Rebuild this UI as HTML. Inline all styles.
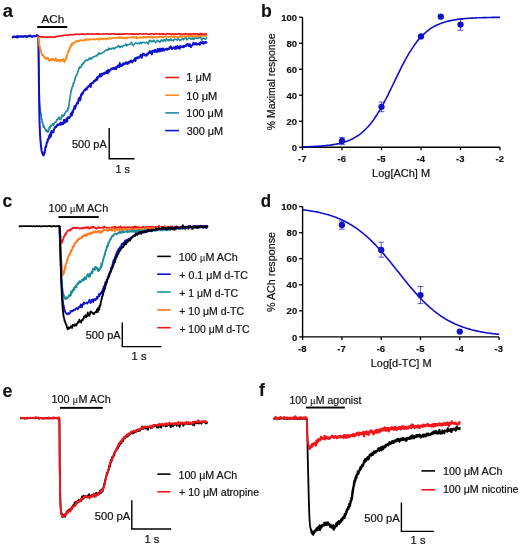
<!DOCTYPE html>
<html><head><meta charset="utf-8"><style>
html,body{margin:0;padding:0;background:#fff;overflow:hidden;}
svg{display:block;font-family:"Liberation Sans",sans-serif;will-change:transform;}
</style></head><body>
<svg width="521" height="550" viewBox="0 0 521 550">
<rect width="521" height="550" fill="#fff"/>
<g fill="#111">
<rect x="37.2" y="26" width="30" height="2" fill="#000"/>
<path d="M12.0,36.7 L12.9,36.3 L13.8,37.0 L14.7,37.0 L15.6,36.7 L16.5,36.8 L17.4,37.2 L18.3,37.0 L19.2,36.8 L20.1,36.8 L21.0,36.3 L21.9,36.8 L22.8,36.0 L23.7,36.3 L24.6,36.3 L25.6,35.9 L26.6,36.3 L27.7,36.8 L28.8,36.2 L30.0,35.9 L31.2,36.2 L32.3,36.4 L33.5,36.2 L34.5,36.1 L35.5,35.6 L36.3,36.2 L37.0,36.2 L37.5,36.4 L37.9,36.4 L38.0,36.2 L38.1,35.5 L38.1,35.7 L38.2,35.9 L38.2,36.5 L38.2,36.4 L38.3,37.3 L38.3,37.3 L38.4,37.7 L38.4,38.2 L38.4,38.6 L38.5,38.5 L38.5,40.2 L38.5,40.5 L38.5,41.1 L38.6,41.0 L38.6,41.4 L38.6,42.2 L38.6,43.0 L38.7,44.4 L38.7,45.2 L38.7,46.2 L38.7,47.2 L38.7,47.6 L38.7,48.5 L38.8,49.2 L38.8,50.2 L38.8,50.9 L38.8,52.4 L38.8,53.3 L38.8,54.2 L38.8,55.1 L38.8,56.6 L38.8,57.9 L38.9,58.6 L38.9,59.8 L38.9,60.7 L38.9,61.9 L38.9,63.1 L38.9,64.2 L38.9,65.3 L38.9,66.8 L38.9,68.3 L38.9,68.8 L38.9,70.7 L39.0,71.3 L39.0,72.5 L39.0,73.2 L39.0,74.3 L39.0,76.5 L39.0,77.1 L39.0,78.9 L39.0,79.9 L39.0,81.1 L39.1,82.6 L39.1,83.4 L39.1,83.6 L39.1,85.2 L39.1,87.2 L39.2,88.6 L39.2,89.1 L39.2,90.0 L39.2,90.9 L39.2,92.5 L39.3,92.9 L39.3,94.1 L39.3,95.5 L39.4,96.5 L39.4,97.4 L39.4,98.7 L39.5,99.0 L39.5,99.9 L39.6,101.0 L39.6,102.1 L39.7,102.9 L39.7,104.5 L39.8,104.6 L39.9,105.9 L40.0,106.4 L40.1,107.8 L40.2,107.9 L40.3,108.9 L40.4,111.8 L40.5,110.7 L40.6,113.7 L40.7,112.1 L40.8,113.3 L41.0,115.8 L41.1,113.1 L41.2,114.8 L41.3,117.3 L41.5,118.7 L41.7,119.7 L41.8,119.7 L42.0,119.4 L42.2,122.6 L42.5,123.1 L42.7,122.4 L43.0,124.5 L43.3,127.1 L43.6,126.2 L43.9,125.7 L44.4,127.3 L44.9,128.3 L45.6,129.9 L46.2,131.3 L46.8,130.0 L47.4,130.6 L47.9,132.2 L48.4,131.3 L48.8,131.1 L49.2,127.2 L49.7,126.7 L50.2,127.9 L50.8,125.3 L51.4,126.0 L52.1,125.0 L52.8,123.7 L53.5,125.3 L54.2,123.3 L54.9,122.2 L55.6,121.9 L56.3,121.7 L56.9,119.3 L57.6,119.4 L58.3,118.4 L59.0,117.0 L59.7,119.5 L60.4,119.4 L61.1,118.6 L61.8,115.0 L62.5,116.7 L63.2,116.4 L63.9,114.5 L64.5,115.3 L65.1,112.7 L65.7,112.0 L66.3,111.5 L66.7,110.9 L67.2,109.8 L67.6,111.0 L68.0,108.1 L68.2,108.0 L68.5,107.0 L68.7,108.4 L68.8,105.0 L69.0,105.3 L69.1,105.5 L69.3,102.1 L69.4,101.5 L69.5,101.0 L69.6,99.3 L69.7,100.5 L69.8,98.2 L70.0,98.5 L70.1,97.2 L70.2,95.9 L70.4,95.7 L70.5,93.8 L70.7,94.0 L70.9,91.2 L71.1,90.8 L71.3,91.5 L71.6,88.0 L71.8,89.2 L72.1,87.6 L72.4,86.7 L72.7,85.7 L72.9,86.4 L73.2,83.3 L73.5,84.3 L73.8,83.2 L74.1,81.6 L74.4,81.0 L74.7,80.8 L75.0,78.9 L75.3,77.3 L75.5,77.9 L75.8,76.1 L76.1,75.6 L76.4,75.1 L76.7,74.8 L77.0,74.8 L77.4,72.8 L77.7,71.8 L78.1,71.5 L78.5,70.3 L78.9,68.0 L79.4,68.1 L79.9,66.8 L80.4,67.6 L80.9,67.3 L81.5,65.8 L82.1,64.0 L82.7,64.8 L83.3,62.7 L83.9,63.1 L84.6,61.4 L85.3,60.6 L86.0,60.1 L86.8,60.7 L87.5,59.7 L88.3,60.0 L89.1,58.2 L89.9,59.2 L90.6,57.8 L91.4,58.9 L92.2,58.3 L93.1,56.9 L93.9,56.8 L94.7,56.5 L95.5,56.3 L96.3,55.3 L97.1,56.0 L97.9,54.3 L98.8,52.8 L99.6,54.1 L100.4,53.4 L101.2,53.7 L102.0,53.1 L102.8,52.4 L103.6,52.0 L104.4,51.7 L105.3,50.7 L106.1,49.9 L107.0,49.9 L107.8,50.2 L108.7,48.1 L109.5,49.3 L110.4,48.6 L111.2,49.0 L112.1,48.1 L112.9,48.5 L113.8,48.0 L114.7,49.0 L115.5,47.4 L116.4,47.2 L117.3,47.2 L118.2,45.5 L119.0,45.9 L119.9,47.7 L120.8,46.7 L121.6,46.2 L122.5,46.8 L123.4,45.6 L124.3,45.4 L125.2,45.1 L126.1,43.8 L126.9,45.8 L127.8,44.7 L128.7,44.6 L129.6,44.3 L130.5,43.9 L131.4,42.4 L132.3,44.2 L133.2,45.7 L134.1,44.6 L135.0,43.4 L135.9,42.8 L136.8,43.4 L137.7,43.6 L138.6,43.1 L139.5,43.7 L140.4,42.2 L141.2,43.7 L142.1,42.9 L143.0,42.2 L143.9,42.3 L144.8,42.7 L145.7,43.0 L146.6,42.3 L147.5,42.6 L148.4,44.0 L149.3,40.7 L150.2,40.3 L151.1,41.8 L152.0,40.9 L152.9,41.7 L153.8,40.2 L154.7,41.5 L155.6,42.4 L156.5,42.1 L157.4,40.2 L158.3,40.8 L159.2,41.6 L160.1,42.3 L161.0,40.0 L161.9,40.0 L162.8,41.5 L163.6,40.2 L164.5,39.6 L165.4,41.2 L166.3,38.9 L167.2,39.6 L168.1,40.8 L169.0,39.5 L169.9,40.5 L170.8,38.9 L171.7,40.4 L172.6,40.1 L173.5,40.9 L174.4,39.3 L175.3,39.2 L176.2,39.3 L177.1,40.2 L178.0,38.7 L178.9,39.1 L179.8,40.7 L180.7,39.7 L181.6,39.6 L182.5,38.5 L183.5,39.6 L184.4,37.9 L185.3,37.6 L186.2,38.0 L187.1,39.8 L188.0,38.8 L188.9,37.8 L189.8,38.2 L190.7,38.9 L191.6,39.4 L192.5,37.1 L193.4,39.4 L194.3,39.1 L195.2,37.8 L196.1,38.0 L197.0,38.6 L197.9,38.0 L198.8,38.3 L199.7,37.3 L200.6,36.7 L201.6,40.1 L202.5,38.3 L203.4,38.3 L204.3,38.5 L205.2,39.2 L206.1,38.8 L207.0,37.3" fill="none" stroke="#1e8c9a" stroke-width="1.6" stroke-linejoin="round"/>
<path d="M12.0,37.1 L12.6,37.6 L13.2,37.2 L13.8,36.4 L14.4,36.6 L15.0,37.1 L15.6,36.7 L16.2,37.1 L16.8,36.0 L17.4,37.4 L18.0,37.3 L18.6,36.1 L19.2,36.5 L19.8,36.4 L20.4,36.4 L21.0,36.9 L21.6,36.3 L22.2,36.2 L22.8,36.7 L23.4,36.9 L24.0,36.3 L24.6,36.5 L25.2,35.9 L25.9,36.7 L26.6,37.2 L27.3,36.6 L28.0,36.3 L28.8,35.6 L29.6,36.2 L30.4,35.5 L31.2,36.5 L31.9,36.8 L32.7,36.7 L33.5,36.2 L34.2,36.3 L34.8,35.9 L35.5,36.2 L36.0,36.2 L36.6,36.1 L37.0,35.1 L37.4,36.1 L37.7,36.1 L37.9,35.9 L38.0,36.0 L38.0,36.1 L38.1,35.9 L38.1,36.3 L38.1,36.4 L38.1,36.5 L38.2,36.9 L38.2,37.2 L38.2,37.6 L38.2,37.9 L38.2,38.4 L38.3,38.9 L38.3,39.5 L38.3,40.0 L38.3,40.6 L38.3,41.5 L38.3,42.0 L38.4,42.7 L38.4,43.6 L38.4,44.2 L38.4,44.8 L38.4,45.5 L38.4,46.5 L38.4,47.2 L38.4,48.0 L38.5,48.7 L38.5,49.5 L38.5,50.1 L38.5,51.2 L38.5,51.8 L38.5,52.7 L38.5,53.6 L38.5,54.3 L38.5,55.0 L38.5,55.9 L38.5,56.4 L38.6,57.3 L38.6,58.1 L38.6,58.7 L38.6,59.1 L38.6,60.0 L38.6,60.5 L38.6,61.0 L38.6,61.6 L38.6,62.3 L38.7,63.0 L38.7,63.6 L38.7,64.0 L38.7,64.7 L38.7,65.4 L38.7,65.9 L38.7,66.5 L38.7,67.2 L38.7,67.5 L38.7,68.4 L38.7,68.8 L38.8,69.5 L38.8,70.2 L38.8,70.7 L38.8,71.2 L38.8,71.9 L38.8,72.6 L38.8,73.0 L38.8,73.6 L38.8,74.4 L38.8,75.0 L38.8,75.5 L38.8,76.1 L38.9,76.8 L38.9,77.3 L38.9,78.2 L38.9,78.7 L38.9,79.3 L38.9,79.7 L38.9,80.3 L38.9,80.9 L38.9,81.4 L38.9,82.1 L38.9,82.9 L38.9,83.3 L38.9,83.9 L38.9,84.7 L38.9,85.2 L39.0,85.8 L39.0,86.4 L39.0,86.9 L39.0,87.5 L39.0,88.2 L39.0,88.7 L39.0,89.4 L39.0,89.9 L39.0,90.6 L39.0,91.3 L39.0,91.9 L39.0,92.3 L39.0,93.0 L39.0,93.8 L39.0,94.4 L39.1,94.7 L39.1,95.4 L39.1,96.0 L39.1,96.3 L39.1,97.2 L39.1,98.0 L39.1,98.3 L39.1,99.0 L39.1,99.7 L39.1,100.2 L39.1,100.8 L39.1,101.4 L39.1,101.9 L39.2,102.7 L39.2,103.1 L39.2,103.8 L39.2,104.5 L39.2,105.2 L39.2,105.5 L39.2,106.2 L39.2,106.9 L39.2,107.2 L39.2,108.0 L39.3,108.7 L39.3,109.3 L39.3,110.0 L39.3,110.4 L39.3,111.0 L39.3,111.6 L39.3,112.2 L39.3,112.9 L39.3,113.6 L39.4,113.9 L39.4,114.6 L39.4,115.0 L39.4,115.7 L39.4,116.5 L39.4,116.8 L39.4,117.7 L39.5,118.4 L39.5,118.8 L39.5,119.4 L39.5,120.0 L39.5,120.6 L39.5,121.2 L39.6,121.8 L39.6,122.5 L39.6,123.1 L39.6,123.7 L39.6,124.0 L39.6,124.8 L39.7,125.5 L39.7,126.2 L39.7,126.6 L39.7,127.4 L39.8,128.0 L39.8,128.5 L39.8,129.2 L39.8,129.7 L39.9,130.2 L39.9,130.9 L39.9,131.7 L39.9,132.2 L40.0,132.8 L40.0,133.5 L40.0,134.1 L40.1,134.6 L40.1,135.0 L40.1,135.5 L40.2,136.2 L40.2,137.2 L40.3,137.7 L40.3,138.1 L40.3,138.9 L40.4,139.3 L40.4,140.0 L40.5,140.7 L40.5,141.2 L40.6,141.9 L40.6,142.5 L40.7,142.8 L40.8,143.6 L40.8,144.2 L40.9,144.7 L40.9,145.2 L41.0,146.1 L41.1,146.6 L41.1,147.1 L41.2,147.6 L41.3,148.3 L41.4,149.0 L41.4,149.4 L41.5,150.1 L41.6,150.7 L41.8,151.4 L42.0,152.1 L42.2,152.9 L42.5,153.5 L42.7,154.1 L43.0,154.8 L43.2,155.3 L43.4,155.4 L43.6,155.3 L43.8,155.2 L43.9,154.9 L44.0,153.0 L44.2,153.0 L44.3,152.9 L44.4,153.6 L44.6,151.1 L44.7,152.9 L44.8,150.9 L44.9,151.4 L45.1,150.4 L45.2,148.8 L45.3,147.9 L45.5,147.4 L45.6,146.7 L45.8,146.5 L46.0,147.1 L46.1,145.2 L46.3,145.7 L46.5,144.4 L46.7,142.4 L46.9,142.8 L47.2,142.4 L47.4,142.1 L47.6,140.1 L47.9,141.2 L48.1,138.8 L48.3,138.7 L48.6,139.1 L48.9,138.0 L49.1,136.3 L49.4,135.3 L49.7,135.6 L50.0,134.9 L50.2,137.5 L50.5,133.4 L50.8,132.5 L51.1,135.9 L51.4,131.1 L51.8,131.8 L52.1,132.4 L52.4,131.4 L52.8,131.2 L53.1,132.0 L53.4,132.4 L53.8,129.6 L54.2,129.3 L54.6,128.1 L54.9,127.4 L55.3,127.1 L55.7,127.4 L56.1,126.2 L56.6,126.7 L57.0,125.6 L57.5,124.5 L58.0,125.0 L58.6,124.8 L59.1,124.2 L59.6,124.0 L60.2,124.8 L60.7,122.5 L61.3,124.6 L61.8,122.7 L62.4,122.9 L62.9,124.1 L63.4,123.4 L63.9,120.0 L64.4,122.1 L64.9,122.8 L65.3,119.9 L65.8,120.1 L66.3,121.7 L66.7,118.4 L67.2,121.3 L67.6,117.5 L68.1,117.7 L68.5,117.5 L68.9,117.2 L69.3,118.1 L69.7,117.2 L70.1,116.5 L70.5,116.1 L70.8,113.6 L71.2,114.2 L71.5,115.6 L71.8,112.6 L72.1,114.9 L72.3,112.6 L72.6,111.1 L72.9,112.6 L73.1,112.0 L73.4,109.9 L73.6,109.4 L73.9,108.6 L74.2,108.3 L74.5,105.9 L74.7,107.2 L75.0,108.8 L75.3,106.3 L75.6,106.7 L75.8,106.7 L76.1,105.4 L76.4,104.2 L76.7,103.6 L76.9,103.0 L77.2,103.5 L77.5,102.2 L77.8,102.9 L78.0,103.5 L78.3,101.5 L78.6,98.8 L78.8,100.2 L79.1,99.1 L79.3,98.3 L79.6,97.4 L79.9,97.4 L80.1,100.2 L80.4,99.6 L80.7,97.7 L81.0,94.6 L81.2,95.1 L81.5,95.5 L81.8,93.6 L82.1,94.0 L82.4,94.0 L82.8,93.9 L83.1,92.4 L83.4,91.8 L83.8,90.8 L84.2,90.3 L84.6,90.3 L85.0,89.6 L85.4,90.0 L85.8,89.2 L86.3,88.2 L86.7,89.5 L87.2,87.3 L87.6,87.8 L88.1,87.3 L88.6,85.9 L89.0,86.0 L89.5,85.9 L89.9,84.7 L90.4,83.6 L90.8,86.9 L91.3,83.4 L91.7,83.3 L92.1,82.9 L92.6,82.7 L93.0,83.1 L93.4,82.6 L93.8,80.9 L94.3,81.3 L94.7,81.2 L95.1,80.0 L95.5,80.8 L96.0,79.6 L96.4,79.8 L96.9,77.5 L97.3,79.8 L97.8,77.6 L98.2,76.5 L98.7,76.2 L99.2,76.0 L99.7,76.7 L100.1,73.9 L100.6,74.7 L101.1,76.4 L101.6,76.2 L102.1,73.6 L102.6,74.5 L103.1,74.2 L103.6,73.5 L104.2,72.8 L104.7,73.8 L105.2,72.5 L105.7,72.6 L106.2,72.9 L106.8,70.9 L107.3,70.7 L107.8,73.4 L108.3,70.0 L108.9,71.7 L109.4,71.5 L109.9,70.2 L110.5,69.6 L111.0,69.5 L111.5,68.6 L112.1,69.1 L112.6,68.6 L113.1,68.1 L113.7,68.0 L114.2,68.9 L114.8,67.9 L115.3,67.4 L115.9,69.2 L116.5,67.2 L117.0,67.5 L117.6,65.9 L118.1,65.5 L118.7,66.8 L119.3,67.0 L119.8,63.1 L120.4,66.3 L121.0,66.2 L121.5,65.3 L122.1,65.6 L122.7,63.8 L123.2,65.0 L123.8,63.3 L124.4,63.9 L124.9,63.6 L125.5,63.9 L126.1,62.2 L126.6,63.5 L127.2,63.4 L127.8,63.9 L128.3,62.1 L128.9,62.8 L129.4,61.5 L130.0,62.4 L130.5,61.1 L131.1,60.4 L131.6,60.6 L132.2,62.4 L132.7,62.0 L133.3,60.5 L133.8,60.2 L134.3,60.2 L134.9,58.2 L135.4,61.1 L136.0,58.1 L136.5,57.6 L137.0,58.3 L137.6,57.2 L138.1,58.1 L138.7,58.2 L139.2,57.0 L139.7,57.1 L140.3,56.1 L140.8,54.8 L141.4,55.0 L141.9,57.8 L142.4,55.5 L143.0,53.6 L143.5,54.0 L144.1,54.0 L144.6,55.3 L145.2,54.5 L145.7,55.5 L146.3,55.7 L146.8,54.2 L147.4,54.0 L147.9,54.4 L148.5,52.7 L149.0,52.6 L149.6,51.2 L150.2,53.3 L150.7,51.6 L151.3,52.5 L151.9,54.4 L152.4,50.7 L153.0,51.4 L153.6,50.7 L154.2,50.5 L154.8,52.1 L155.3,49.7 L155.9,51.4 L156.5,51.1 L157.1,51.9 L157.7,49.1 L158.3,49.5 L158.9,51.5 L159.4,48.7 L160.0,50.5 L160.6,51.2 L161.2,48.6 L161.8,48.9 L162.4,50.7 L163.0,48.5 L163.6,50.4 L164.2,50.6 L164.8,49.5 L165.4,49.2 L166.0,49.2 L166.6,48.5 L167.2,49.8 L167.8,49.6 L168.4,48.8 L169.0,49.0 L169.6,47.3 L170.2,47.6 L170.8,46.4 L171.4,47.8 L172.0,49.1 L172.6,48.4 L173.2,47.6 L173.8,47.6 L174.4,47.5 L175.0,48.8 L175.6,46.6 L176.2,48.7 L176.8,48.0 L177.4,46.0 L178.0,47.9 L178.6,47.9 L179.1,46.7 L179.7,48.7 L180.3,46.1 L180.9,46.4 L181.5,46.9 L182.1,47.1 L182.7,46.3 L183.3,47.2 L183.9,45.7 L184.5,46.6 L185.1,45.9 L185.7,46.0 L186.3,44.9 L186.8,45.6 L187.4,44.2 L188.0,44.1 L188.6,45.2 L189.2,46.1 L189.8,44.2 L190.4,45.5 L191.0,47.1 L191.6,45.4 L192.2,45.3 L192.8,44.5 L193.4,42.7 L194.0,44.1 L194.5,44.4 L195.1,43.2 L195.7,44.3 L196.3,43.4 L196.9,44.7 L197.5,43.9 L198.1,44.0 L198.7,44.0 L199.3,43.4 L199.9,44.9 L200.5,42.3 L201.1,42.5 L201.7,43.1 L202.3,43.2 L202.8,41.7 L203.4,43.8 L204.0,42.6 L204.6,43.3 L205.2,42.0 L205.8,42.0 L206.4,42.6 L207.0,41.8" fill="none" stroke="#1010cc" stroke-width="2.0" stroke-linejoin="round"/>
<path d="M38.0,36.1 L38.1,36.5 L38.1,37.3 L38.2,37.7 L38.3,38.5 L38.4,38.8 L38.5,39.5 L38.5,40.1 L38.6,40.6 L38.7,41.5 L38.8,41.8 L38.9,42.4 L39.0,42.7 L39.1,44.3 L39.2,43.7 L39.3,46.5 L39.5,45.5 L39.6,45.9 L39.7,47.1 L39.8,47.2 L40.0,47.1 L40.1,48.0 L40.2,49.2 L40.4,50.9 L40.6,50.4 L40.7,51.2 L40.9,49.6 L41.1,51.8 L41.3,52.5 L41.6,54.5 L41.8,55.0 L42.1,54.3 L42.3,55.1 L42.6,55.2 L43.0,55.1 L43.4,56.2 L43.9,56.3 L44.3,57.2 L44.8,57.9 L45.3,57.5 L45.8,58.9 L46.3,57.5 L46.8,58.7 L47.4,59.1 L48.0,57.8 L48.5,59.9 L49.1,60.1 L49.7,61.0 L50.2,59.6 L50.8,60.2 L51.4,60.3 L52.0,58.5 L52.6,60.0 L53.2,58.7 L53.9,60.1 L54.5,60.5 L55.1,60.1 L55.7,58.3 L56.3,61.1 L56.9,60.2 L57.5,60.8 L58.2,59.5 L58.8,59.8 L59.5,61.8 L60.2,60.0 L60.9,59.8 L61.6,59.9 L62.2,61.0 L62.8,59.0 L63.4,60.0 L63.9,59.6 L64.4,62.3 L64.8,61.2 L65.1,60.3 L65.4,60.0 L65.6,59.1 L65.8,58.2 L66.1,57.7 L66.3,58.6 L66.5,56.3 L66.7,55.7 L66.9,55.6 L67.2,56.0 L67.4,54.7 L67.6,52.9 L67.8,53.2 L68.0,52.6 L68.2,51.0 L68.5,50.9 L68.7,51.2 L69.0,50.0 L69.2,51.1 L69.5,49.5 L69.7,48.3 L70.0,48.0 L70.3,46.8 L70.5,46.4 L70.8,47.0 L71.1,45.8 L71.4,43.8 L71.8,43.8 L72.1,44.9 L72.5,43.1 L72.9,43.4 L73.3,44.2 L73.8,42.7 L74.3,42.3 L74.8,41.9 L75.4,42.3 L76.0,41.4 L76.5,40.9 L77.1,41.2 L77.6,41.6 L78.2,41.0 L78.8,41.3 L79.4,41.1 L79.9,40.1 L80.5,40.4 L81.1,40.3 L81.7,40.2 L82.3,40.5 L83.0,40.5 L83.6,40.2 L84.2,40.3 L84.8,39.6 L85.4,40.1 L86.0,39.4 L86.6,39.6 L87.2,39.2 L87.8,40.0 L88.4,39.4 L89.0,39.8 L89.6,39.0 L90.2,39.5 L90.8,39.7 L91.4,39.4 L92.0,39.4 L92.6,39.4 L93.2,39.3 L93.8,39.2 L94.4,39.0 L95.0,39.6 L95.6,39.2 L96.2,39.2 L96.8,39.3 L97.4,38.7 L98.0,38.7 L98.6,38.6 L99.2,39.7 L99.8,38.9 L100.4,39.3 L101.0,38.3 L101.6,38.8 L102.2,38.9 L102.8,38.7 L103.4,39.2 L104.0,38.7 L104.6,38.7 L105.2,39.1 L105.8,39.3 L106.4,38.8 L107.0,38.5 L107.6,38.5 L108.2,39.0 L108.8,38.1 L109.4,38.1 L110.1,38.1 L110.7,38.8 L111.3,38.5 L111.9,38.0 L112.5,38.0 L113.1,38.2 L113.7,38.0 L114.3,37.8 L114.9,37.8 L115.5,38.0 L116.1,37.9 L116.7,38.0 L117.3,37.9 L117.9,37.7 L118.5,38.1 L119.1,38.1 L119.7,37.2 L120.3,38.0 L120.9,37.7 L121.5,37.5 L122.1,38.1 L122.7,37.9 L123.3,38.0 L123.9,37.6 L124.5,38.4 L125.1,37.9 L125.7,37.5 L126.3,38.4 L126.9,37.4 L127.5,38.2 L128.1,37.6 L128.7,37.4 L129.3,37.4 L129.9,37.3 L130.5,37.3 L131.1,37.7 L131.7,37.5 L132.3,37.0 L132.9,37.6 L133.5,37.0 L134.1,37.7 L134.7,37.4 L135.3,37.4 L135.9,37.9 L136.5,36.8 L137.1,38.3 L137.7,38.5 L138.3,37.8 L138.9,37.6 L139.5,37.2 L140.2,37.8 L140.8,37.3 L141.4,37.3 L142.0,37.1 L142.6,37.9 L143.2,37.7 L143.8,36.8 L144.4,37.3 L145.0,36.8 L145.6,37.6 L146.2,37.0 L146.8,37.2 L147.4,37.5 L148.0,37.2 L148.6,36.8 L149.2,37.1 L149.8,36.7 L150.4,37.7 L151.0,37.5 L151.6,36.5 L152.2,36.7 L152.8,37.9 L153.4,37.4 L154.0,37.0 L154.6,37.4 L155.2,37.2 L155.8,37.3 L156.4,36.9 L157.0,37.6 L157.6,37.1 L158.2,36.6 L158.8,37.0 L159.4,36.9 L160.0,37.1 L160.6,37.0 L161.2,37.0 L161.8,36.6 L162.4,37.0 L163.0,36.7 L163.6,37.4 L164.2,36.4 L164.8,36.7 L165.4,36.6 L166.0,36.5 L166.7,36.9 L167.3,36.9 L167.9,36.8 L168.5,37.3 L169.1,36.5 L169.7,36.9 L170.3,36.7 L170.9,36.8 L171.5,36.2 L172.1,36.2 L172.7,37.0 L173.3,36.2 L173.9,37.0 L174.5,37.2 L175.1,36.4 L175.7,36.7 L176.3,36.6 L176.9,37.1 L177.5,37.3 L178.1,36.8 L178.7,36.8 L179.3,36.9 L179.9,36.1 L180.5,36.4 L181.1,36.8 L181.7,36.3 L182.3,37.0 L182.9,36.1 L183.5,36.3 L184.1,36.4 L184.7,36.6 L185.3,36.0 L185.9,36.2 L186.5,36.4 L187.1,36.3 L187.7,36.5 L188.3,36.0 L188.9,35.8 L189.5,35.2 L190.1,35.7 L190.7,36.0 L191.3,35.6 L191.9,36.0 L192.5,36.4 L193.1,35.9 L193.8,36.4 L194.4,36.3 L195.0,36.1 L195.6,36.3 L196.2,36.3 L196.8,35.5 L197.4,36.6 L198.0,35.4 L198.6,36.1 L199.2,35.7 L199.8,35.7 L200.4,36.0 L201.0,35.8 L201.6,35.8 L202.2,35.9 L202.8,35.6 L203.4,35.9 L204.0,35.5 L204.6,36.0 L205.2,35.4 L205.8,35.9 L206.4,35.6 L207.0,36.3" fill="none" stroke="#ff8a1e" stroke-width="1.8" stroke-linejoin="round"/>
<path d="M38.0,36.1 L38.6,36.3 L39.2,36.3 L39.7,36.6 L40.3,36.8 L40.9,36.9 L41.5,37.4 L42.1,36.9 L42.7,36.9 L43.3,36.9 L43.9,37.2 L44.5,36.9 L45.1,37.0 L45.7,37.2 L46.3,37.2 L46.9,36.8 L47.5,37.4 L48.1,37.1 L48.7,37.2 L49.3,37.1 L49.9,37.3 L50.5,36.9 L51.1,36.9 L51.7,37.1 L52.3,37.3 L52.9,37.0 L53.5,37.2 L54.1,37.3 L54.7,36.6 L55.3,37.1 L55.9,36.9 L56.5,36.5 L57.1,36.4 L57.7,36.2 L58.3,36.3 L58.9,35.9 L59.5,36.1 L60.1,36.2 L60.7,35.5 L61.3,35.8 L61.9,35.7 L62.5,35.5 L63.1,35.6 L63.7,35.5 L64.3,35.1 L64.9,35.2 L65.5,35.3 L66.1,35.1 L66.7,34.9 L67.3,35.6 L67.9,35.3 L68.5,35.2 L69.1,34.9 L69.7,34.4 L70.3,34.7 L70.9,34.8 L71.5,34.6 L72.1,34.5 L72.7,34.6 L73.3,34.9 L73.9,34.5 L74.5,34.5 L75.1,34.2 L75.7,34.7 L76.3,34.4 L76.9,34.3 L77.5,34.2 L78.1,34.1 L78.7,34.3 L79.3,34.7 L79.9,34.2 L80.5,34.3 L81.1,34.1 L81.7,34.3 L82.3,33.9 L82.9,34.5 L83.5,34.1 L84.1,34.3 L84.7,34.2 L85.3,34.5 L85.9,34.3 L86.5,34.3 L87.1,33.9 L87.7,33.9 L88.3,33.9 L88.9,33.9 L89.5,34.0 L90.1,34.3 L90.7,34.1 L91.3,34.1 L91.9,33.9 L92.5,33.9 L93.1,33.8 L93.7,34.3 L94.3,34.1 L94.9,34.2 L95.5,34.1 L96.1,33.9 L96.7,34.1 L97.3,33.6 L98.0,34.2 L98.6,34.1 L99.2,34.1 L99.8,34.1 L100.4,34.2 L101.0,34.0 L101.6,34.0 L102.2,33.9 L102.8,34.0 L103.4,34.1 L104.0,34.2 L104.6,34.0 L105.2,33.7 L105.8,33.6 L106.4,34.0 L107.0,33.9 L107.6,34.1 L108.2,34.3 L108.8,33.9 L109.4,34.3 L110.0,34.3 L110.6,33.8 L111.2,33.9 L111.8,34.2 L112.4,33.8 L113.0,33.8 L113.6,34.2 L114.2,33.9 L114.8,33.9 L115.4,34.1 L116.0,34.0 L116.6,34.1 L117.2,34.3 L117.8,34.3 L118.4,33.7 L119.0,34.2 L119.6,34.0 L120.3,34.1 L120.9,34.2 L121.5,34.4 L122.1,34.2 L122.7,34.0 L123.3,34.1 L123.9,33.7 L124.5,34.1 L125.1,34.1 L125.7,33.8 L126.3,33.7 L126.9,33.8 L127.5,33.9 L128.1,34.1 L128.7,34.0 L129.3,33.9 L129.9,34.0 L130.5,34.3 L131.1,34.0 L131.7,33.8 L132.3,34.4 L132.9,33.8 L133.5,34.1 L134.1,34.2 L134.7,34.0 L135.3,34.0 L135.9,34.3 L136.5,34.0 L137.1,34.1 L137.7,34.0 L138.3,34.3 L138.9,33.8 L139.5,33.8 L140.1,33.8 L140.7,34.0 L141.3,34.0 L141.9,34.0 L142.5,33.9 L143.1,34.1 L143.7,33.7 L144.3,33.8 L145.0,34.0 L145.6,33.9 L146.2,33.9 L146.8,33.9 L147.4,33.9 L148.0,34.1 L148.6,34.2 L149.2,34.3 L149.8,34.0 L150.4,33.9 L151.0,33.8 L151.6,33.8 L152.2,33.7 L152.8,34.1 L153.4,34.4 L154.0,34.0 L154.6,34.1 L155.2,33.6 L155.8,34.0 L156.4,33.9 L157.0,34.0 L157.6,33.9 L158.2,33.9 L158.8,33.8 L159.4,33.9 L160.0,34.4 L160.6,34.2 L161.2,33.7 L161.8,34.0 L162.4,33.9 L163.0,34.4 L163.6,33.7 L164.2,34.1 L164.8,34.2 L165.4,34.4 L166.0,34.4 L166.6,34.0 L167.2,33.7 L167.8,33.8 L168.4,33.9 L169.0,34.0 L169.6,33.9 L170.3,33.8 L170.9,34.2 L171.5,34.1 L172.1,33.9 L172.7,33.9 L173.3,33.9 L173.9,33.8 L174.5,34.5 L175.1,34.0 L175.7,33.9 L176.3,34.3 L176.9,34.0 L177.5,34.1 L178.1,33.8 L178.7,34.0 L179.3,33.7 L179.9,34.1 L180.5,34.5 L181.1,34.1 L181.7,34.1 L182.3,34.3 L182.9,34.3 L183.5,33.9 L184.1,33.9 L184.7,34.0 L185.3,34.3 L185.9,33.8 L186.5,33.9 L187.1,34.0 L187.7,34.1 L188.3,34.1 L188.9,34.0 L189.5,34.3 L190.1,33.9 L190.7,34.5 L191.3,34.1 L191.9,34.2 L192.5,33.8 L193.1,34.1 L193.7,33.8 L194.3,33.8 L195.0,34.2 L195.6,34.1 L196.2,33.8 L196.8,33.7 L197.4,34.2 L198.0,34.1 L198.6,34.2 L199.2,34.3 L199.8,34.3 L200.4,33.6 L201.0,33.4 L201.6,34.2 L202.2,33.7 L202.8,34.3 L203.4,34.2 L204.0,34.1 L204.6,34.1 L205.2,33.8 L205.8,34.1 L206.4,34.1 L207.0,34.2" fill="none" stroke="#f2161c" stroke-width="1.6" stroke-linejoin="round"/>
<line x1="165.2" y1="77.5" x2="179" y2="77.5" stroke="#f2161c" stroke-width="1.6"/>
<line x1="165.2" y1="95.2" x2="179" y2="95.2" stroke="#ff8a1e" stroke-width="1.6"/>
<line x1="165.2" y1="112.9" x2="179" y2="112.9" stroke="#1e8c9a" stroke-width="1.6"/>
<line x1="165.2" y1="130.6" x2="179" y2="130.6" stroke="#1010cc" stroke-width="1.6"/>
<path d="M109.2,128 V158.7 H134.6" fill="none" stroke="#000" stroke-width="1.4"/>
<path d="M302.5,17.2 V147.2 H500.0" fill="none" stroke="#000" stroke-width="1.4"/>
<line x1="299.0" y1="147.2" x2="302.5" y2="147.2" stroke="#000" stroke-width="1.3"/>
<text x="297.10" y="150.80" font-size="9.5" text-anchor="end" font-weight="bold" stroke="#111" stroke-width="0.15">0</text>
<line x1="299.0" y1="121.2" x2="302.5" y2="121.2" stroke="#000" stroke-width="1.3"/>
<text x="297.10" y="124.80" font-size="9.5" text-anchor="end" font-weight="bold" stroke="#111" stroke-width="0.15">20</text>
<line x1="299.0" y1="95.2" x2="302.5" y2="95.2" stroke="#000" stroke-width="1.3"/>
<text x="297.10" y="98.80" font-size="9.5" text-anchor="end" font-weight="bold" stroke="#111" stroke-width="0.15">40</text>
<line x1="299.0" y1="69.2" x2="302.5" y2="69.2" stroke="#000" stroke-width="1.3"/>
<text x="297.10" y="72.80" font-size="9.5" text-anchor="end" font-weight="bold" stroke="#111" stroke-width="0.15">60</text>
<line x1="299.0" y1="43.2" x2="302.5" y2="43.2" stroke="#000" stroke-width="1.3"/>
<text x="297.10" y="46.80" font-size="9.5" text-anchor="end" font-weight="bold" stroke="#111" stroke-width="0.15">80</text>
<line x1="299.0" y1="17.2" x2="302.5" y2="17.2" stroke="#000" stroke-width="1.3"/>
<text x="297.10" y="20.80" font-size="9.5" text-anchor="end" font-weight="bold" stroke="#111" stroke-width="0.15">100</text>
<line x1="302.5" y1="147.2" x2="302.5" y2="150.2" stroke="#000" stroke-width="1.3"/>
<text x="302.20" y="162.20" font-size="9.5" text-anchor="middle" font-weight="bold" stroke="#111" stroke-width="0.15">-7</text>
<line x1="342.0" y1="147.2" x2="342.0" y2="150.2" stroke="#000" stroke-width="1.3"/>
<text x="341.70" y="162.20" font-size="9.5" text-anchor="middle" font-weight="bold" stroke="#111" stroke-width="0.15">-6</text>
<line x1="381.5" y1="147.2" x2="381.5" y2="150.2" stroke="#000" stroke-width="1.3"/>
<text x="381.20" y="162.20" font-size="9.5" text-anchor="middle" font-weight="bold" stroke="#111" stroke-width="0.15">-5</text>
<line x1="421.0" y1="147.2" x2="421.0" y2="150.2" stroke="#000" stroke-width="1.3"/>
<text x="420.70" y="162.20" font-size="9.5" text-anchor="middle" font-weight="bold" stroke="#111" stroke-width="0.15">-4</text>
<line x1="460.5" y1="147.2" x2="460.5" y2="150.2" stroke="#000" stroke-width="1.3"/>
<text x="460.20" y="162.20" font-size="9.5" text-anchor="middle" font-weight="bold" stroke="#111" stroke-width="0.15">-3</text>
<line x1="500.0" y1="147.2" x2="500.0" y2="150.2" stroke="#000" stroke-width="1.3"/>
<text x="499.70" y="162.20" font-size="9.5" text-anchor="middle" font-weight="bold" stroke="#111" stroke-width="0.15">-2</text>
<text x="0" y="0" font-size="10.5" stroke="#111" stroke-width="0.2" text-anchor="middle" textLength="96.7" lengthAdjust="spacingAndGlyphs" transform="translate(275.0,81.8) rotate(-90)">% Maximal response</text>
<path d="M302.5,146.8 L303.5,146.8 L304.5,146.8 L305.5,146.8 L306.5,146.7 L307.5,146.7 L308.5,146.7 L309.4,146.6 L310.4,146.6 L311.4,146.6 L312.4,146.5 L313.4,146.5 L314.4,146.4 L315.4,146.4 L316.4,146.3 L317.4,146.3 L318.4,146.2 L319.4,146.1 L320.4,146.1 L321.4,146.0 L322.3,145.9 L323.3,145.8 L324.3,145.7 L325.3,145.6 L326.3,145.5 L327.3,145.4 L328.3,145.3 L329.3,145.2 L330.3,145.1 L331.3,144.9 L332.3,144.8 L333.3,144.6 L334.3,144.5 L335.3,144.3 L336.2,144.1 L337.2,143.9 L338.2,143.7 L339.2,143.5 L340.2,143.2 L341.2,143.0 L342.2,142.7 L343.2,142.4 L344.2,142.1 L345.2,141.8 L346.2,141.5 L347.2,141.1 L348.2,140.7 L349.1,140.3 L350.1,139.9 L351.1,139.4 L352.1,139.0 L353.1,138.5 L354.1,137.9 L355.1,137.4 L356.1,136.8 L357.1,136.1 L358.1,135.5 L359.1,134.8 L360.1,134.1 L361.1,133.3 L362.0,132.5 L363.0,131.6 L364.0,130.7 L365.0,129.8 L366.0,128.8 L367.0,127.8 L368.0,126.7 L369.0,125.6 L370.0,124.4 L371.0,123.2 L372.0,121.9 L373.0,120.6 L374.0,119.2 L374.9,117.8 L375.9,116.3 L376.9,114.8 L377.9,113.2 L378.9,111.6 L379.9,110.0 L380.9,108.2 L381.9,106.5 L382.9,104.7 L383.9,102.8 L384.9,101.0 L385.9,99.0 L386.9,97.1 L387.9,95.1 L388.8,93.1 L389.8,91.1 L390.8,89.1 L391.8,87.0 L392.8,85.0 L393.8,82.9 L394.8,80.8 L395.8,78.8 L396.8,76.7 L397.8,74.7 L398.8,72.6 L399.8,70.6 L400.8,68.6 L401.7,66.7 L402.7,64.7 L403.7,62.8 L404.7,61.0 L405.7,59.1 L406.7,57.3 L407.7,55.6 L408.7,53.9 L409.7,52.2 L410.7,50.6 L411.7,49.1 L412.7,47.6 L413.7,46.1 L414.6,44.7 L415.6,43.4 L416.6,42.1 L417.6,40.8 L418.6,39.6 L419.6,38.4 L420.6,37.3 L421.6,36.3 L422.6,35.3 L423.6,34.3 L424.6,33.4 L425.6,32.5 L426.6,31.7 L427.6,30.9 L428.5,30.1 L429.5,29.4 L430.5,28.7 L431.5,28.0 L432.5,27.4 L433.5,26.8 L434.5,26.3 L435.5,25.8 L436.5,25.3 L437.5,24.8 L438.5,24.4 L439.5,23.9 L440.5,23.5 L441.4,23.2 L442.4,22.8 L443.4,22.5 L444.4,22.2 L445.4,21.9 L446.4,21.6 L447.4,21.3 L448.4,21.1 L449.4,20.9 L450.4,20.6 L451.4,20.4 L452.4,20.2 L453.4,20.1 L454.3,19.9 L455.3,19.7 L456.3,19.6 L457.3,19.4 L458.3,19.3 L459.3,19.2 L460.3,19.0 L461.3,18.9 L462.3,18.8 L463.3,18.7 L464.3,18.6 L465.3,18.5 L466.3,18.5 L467.2,18.4 L468.2,18.3 L469.2,18.2 L470.2,18.2 L471.2,18.1 L472.2,18.1 L473.2,18.0 L474.2,18.0 L475.2,17.9 L476.2,17.9 L477.2,17.8 L478.2,17.8 L479.2,17.8 L480.2,17.7 L481.1,17.7 L482.1,17.7 L483.1,17.6 L484.1,17.6 L485.1,17.6 L486.1,17.6 L487.1,17.5 L488.1,17.5 L489.1,17.5 L490.1,17.5 L491.1,17.5 L492.1,17.4 L493.1,17.4 L494.0,17.4 L495.0,17.4 L496.0,17.4 L497.0,17.4 L498.0,17.4 L499.0,17.4 L500.0,17.3" fill="none" stroke="#1010cc" stroke-width="1.6"/>
<path d="M339.1,137.4 H344.9 M342.0,137.4 V144.6 M339.1,144.6 H344.9" stroke="#1010cc" stroke-width="0.8" fill="none" opacity="0.85"/><circle cx="342.0" cy="141.0" r="3.15" fill="#1010cc"/>
<path d="M378.6,102.1 H384.4 M381.5,102.1 V111.7 M378.6,111.7 H384.4" stroke="#1010cc" stroke-width="0.8" fill="none" opacity="0.85"/><circle cx="381.5" cy="106.8" r="3.15" fill="#1010cc"/>
<circle cx="421.0" cy="36.4" r="3.15" fill="#1010cc"/>
<circle cx="440.8" cy="16.7" r="3.15" fill="#1010cc"/>
<path d="M457.6,19.2 H463.4 M460.5,19.2 V30.3 M457.6,30.3 H463.4" stroke="#1010cc" stroke-width="0.8" fill="none" opacity="0.85"/><circle cx="460.5" cy="24.6" r="3.15" fill="#1010cc"/>
<rect x="58.4" y="216.1" width="40.4" height="1.9" fill="#000"/>
<path d="M59.5,226.2 L59.5,227.4 L59.5,228.3 L59.5,228.0 L59.6,228.5 L59.6,229.7 L59.6,229.9 L59.7,230.8 L59.7,231.8 L59.8,231.9 L59.9,232.7 L59.9,231.8 L60.0,233.9 L60.1,234.0 L60.1,234.2 L60.2,235.2 L60.3,235.3 L60.4,235.9 L60.5,236.1 L60.5,237.3 L60.6,237.6 L60.7,238.5 L60.8,240.0 L61.0,240.5 L61.1,240.6 L61.2,242.0 L61.4,242.8 L61.6,242.7 L61.7,242.8 L61.9,242.6 L62.1,241.9 L62.3,242.3 L62.5,241.5 L62.7,240.5 L62.9,239.8 L63.2,239.0 L63.4,239.1 L63.7,237.6 L63.9,236.3 L64.2,236.6 L64.5,236.4 L64.8,235.8 L65.1,234.7 L65.4,233.6 L65.8,234.7 L66.1,232.8 L66.4,232.8 L66.8,232.2 L67.2,231.5 L67.6,231.2 L68.0,230.5 L68.4,230.2 L68.9,230.1 L69.4,230.0 L69.9,230.8 L70.4,229.0 L71.0,229.7 L71.6,228.9 L72.2,228.5 L72.8,227.8 L73.4,228.2 L74.0,227.6 L74.6,228.1 L75.1,228.1 L75.7,227.4 L76.3,228.4 L76.9,227.8 L77.5,227.9 L78.1,228.0 L78.7,227.7 L79.3,228.4 L79.9,228.6 L80.5,228.0 L81.1,228.3 L81.7,228.7 L82.3,228.2 L82.9,227.8 L83.5,228.4 L84.1,227.9 L84.7,227.8 L85.3,227.2 L86.0,227.9 L86.6,227.5 L87.2,228.0 L87.8,226.9 L88.4,227.3 L89.0,228.5 L89.6,228.6 L90.2,228.0 L90.8,227.9 L91.4,226.7 L92.0,228.0 L92.6,227.4 L93.2,226.7 L93.8,227.3 L94.4,227.2 L95.0,228.0 L95.6,227.8 L96.2,228.8 L96.8,228.4 L97.4,227.7 L98.0,227.9 L98.6,227.1 L99.2,228.1 L99.8,227.5 L100.5,227.7 L101.1,227.8 L101.7,227.7 L102.3,227.5 L102.9,228.0 L103.5,228.0 L104.1,226.5 L104.7,227.3 L105.3,227.5 L105.9,227.3 L106.5,227.7 L107.1,228.0 L107.7,227.7 L108.3,227.5 L108.9,228.1 L109.5,227.7 L110.1,227.7 L110.7,228.5 L111.3,228.1 L111.9,227.1 L112.5,228.2 L113.1,227.2 L113.7,227.7 L114.3,226.7 L114.9,228.0 L115.5,226.7 L116.1,227.7 L116.7,228.5 L117.3,227.8 L117.9,227.5 L118.5,227.0 L119.1,227.3 L119.7,227.8 L120.3,226.4 L120.9,226.9 L121.5,228.0 L122.1,227.2 L122.7,227.9 L123.3,227.7 L123.9,226.9 L124.6,227.3 L125.2,228.0 L125.8,227.2 L126.4,227.3 L127.0,227.6 L127.6,227.1 L128.2,227.2 L128.8,227.5 L129.4,227.2 L130.0,227.3 L130.6,227.6 L131.2,228.1 L131.8,227.3 L132.4,227.0 L133.0,228.7 L133.6,227.8 L134.2,226.4 L134.8,227.1 L135.4,226.5 L136.0,227.6 L136.6,226.7 L137.2,227.1 L137.8,228.0 L138.4,227.0 L139.0,227.3 L139.6,227.4 L140.2,227.7 L140.8,227.7 L141.4,227.9 L142.0,226.9 L142.6,227.4 L143.2,226.4 L143.8,227.2 L144.4,227.1 L145.0,228.0 L145.6,227.3 L146.2,227.0 L146.8,227.0 L147.4,226.7 L148.0,226.9 L148.7,226.8 L149.3,227.1 L149.9,226.9 L150.5,227.1 L151.1,227.6 L151.7,226.6 L152.3,226.7 L152.9,226.5 L153.5,228.0 L154.1,227.9 L154.7,227.3 L155.3,227.1 L155.9,226.6 L156.5,227.5 L157.1,227.1 L157.7,227.2 L158.3,227.1 L158.9,225.7 L159.5,226.3 L160.1,226.8 L160.7,227.3 L161.3,226.5 L161.9,227.1 L162.5,226.8 L163.1,226.5 L163.7,227.3 L164.3,226.5 L164.9,226.4 L165.5,227.7 L166.1,227.6 L166.7,227.1 L167.3,227.5 L167.9,226.7 L168.5,226.8 L169.1,227.1 L169.7,227.1 L170.3,227.2 L170.9,226.3 L171.5,227.4 L172.2,226.4 L172.8,226.9 L173.4,228.1 L174.0,227.4 L174.6,226.7 L175.2,227.1 L175.8,226.6 L176.4,226.6 L177.0,226.5 L177.6,226.7 L178.2,226.9 L178.8,227.2 L179.4,227.9 L180.0,227.1 L180.6,227.0 L181.2,226.3 L181.8,227.5 L182.4,226.9 L183.0,227.6 L183.6,226.9 L184.2,227.6 L184.8,226.6 L185.4,226.7 L186.0,226.7 L186.6,226.7 L187.2,227.0 L187.8,226.9 L188.4,225.9 L189.0,226.3 L189.6,226.4 L190.2,227.0 L190.8,226.6 L191.4,227.0 L192.0,227.0 L192.6,226.8 L193.2,225.8 L193.8,227.6 L194.4,227.0 L195.0,226.5 L195.6,226.9 L196.3,226.5 L196.9,226.8 L197.5,226.4 L198.1,227.7 L198.7,226.6 L199.3,227.0 L199.9,226.5 L200.5,227.1 L201.1,227.4 L201.7,226.9 L202.3,226.4 L202.9,226.9 L203.5,226.7 L204.1,227.2 L204.7,226.9 L205.3,226.9 L205.9,226.7 L206.5,226.6 L207.1,226.7 L207.7,227.3" fill="none" stroke="#f2161c" stroke-width="1.7" stroke-linejoin="round"/>
<path d="M59.5,226.8 L59.5,227.0 L59.5,227.7 L59.6,227.9 L59.6,229.3 L59.6,228.1 L59.6,230.6 L59.6,230.2 L59.7,230.9 L59.7,230.9 L59.7,231.1 L59.7,232.5 L59.8,233.9 L59.8,234.2 L59.8,235.2 L59.8,235.1 L59.9,236.0 L59.9,236.3 L59.9,236.3 L59.9,237.6 L60.0,237.9 L60.0,239.4 L60.0,239.3 L60.1,240.0 L60.1,241.0 L60.1,241.9 L60.1,241.8 L60.2,242.3 L60.2,243.2 L60.2,244.3 L60.3,243.6 L60.3,244.1 L60.3,247.5 L60.4,245.9 L60.4,246.7 L60.4,245.8 L60.5,247.5 L60.5,248.4 L60.5,248.6 L60.6,249.3 L60.6,250.1 L60.7,251.1 L60.7,252.1 L60.7,251.2 L60.8,251.8 L60.8,253.6 L60.8,254.0 L60.9,253.9 L60.9,254.1 L60.9,255.1 L61.0,256.3 L61.0,257.3 L61.1,258.2 L61.1,258.6 L61.2,258.0 L61.2,260.5 L61.2,260.3 L61.3,260.4 L61.3,261.0 L61.4,262.3 L61.4,262.0 L61.5,262.6 L61.5,263.5 L61.6,265.1 L61.7,263.7 L61.7,266.0 L61.8,264.4 L61.8,265.8 L61.9,267.2 L62.0,268.3 L62.0,267.4 L62.1,269.6 L62.2,270.5 L62.3,270.2 L62.4,271.1 L62.5,271.9 L62.6,271.4 L62.7,275.0 L62.8,274.2 L62.9,273.3 L63.1,274.8 L63.2,274.7 L63.3,274.0 L63.5,273.8 L63.7,273.9 L63.8,272.3 L64.0,271.2 L64.2,272.4 L64.4,270.7 L64.6,269.3 L64.8,270.0 L64.9,266.7 L65.1,266.9 L65.3,267.5 L65.4,266.6 L65.6,266.1 L65.7,264.9 L65.9,264.3 L66.0,263.8 L66.2,263.3 L66.3,263.4 L66.5,263.1 L66.6,262.2 L66.8,262.2 L67.0,259.5 L67.2,260.0 L67.4,258.8 L67.6,260.2 L67.8,258.2 L68.0,258.3 L68.2,257.4 L68.4,256.2 L68.7,255.5 L68.9,255.9 L69.1,255.6 L69.4,254.2 L69.6,255.2 L69.9,253.4 L70.1,253.4 L70.4,252.5 L70.7,252.4 L70.9,250.1 L71.2,251.7 L71.5,250.7 L71.7,250.2 L72.0,250.0 L72.3,249.0 L72.6,247.0 L72.9,247.1 L73.2,246.1 L73.5,246.0 L73.8,246.3 L74.1,246.3 L74.4,243.8 L74.7,243.4 L75.0,243.7 L75.4,243.6 L75.7,242.9 L76.1,241.8 L76.4,242.0 L76.8,241.5 L77.2,240.3 L77.6,241.3 L78.0,238.9 L78.4,239.6 L78.8,239.2 L79.3,239.1 L79.7,239.1 L80.2,237.7 L80.7,237.6 L81.2,237.7 L81.7,238.1 L82.3,236.2 L82.8,236.8 L83.3,236.2 L83.9,235.1 L84.4,235.8 L84.9,234.5 L85.5,235.0 L86.0,234.8 L86.6,236.0 L87.1,233.7 L87.7,234.6 L88.2,234.1 L88.8,233.7 L89.4,233.3 L90.0,234.4 L90.6,232.8 L91.2,233.6 L91.7,232.8 L92.3,233.2 L92.9,233.2 L93.5,231.4 L94.1,231.7 L94.7,232.2 L95.3,232.2 L95.9,231.0 L96.5,232.2 L97.1,232.4 L97.7,231.6 L98.2,231.6 L98.8,230.6 L99.4,232.1 L100.0,232.5 L100.6,233.0 L101.2,231.1 L101.8,232.2 L102.4,230.4 L103.0,231.0 L103.6,230.7 L104.2,229.5 L104.8,230.0 L105.4,230.4 L106.0,230.3 L106.6,230.0 L107.2,230.2 L107.8,230.8 L108.4,230.9 L109.0,228.5 L109.6,229.7 L110.2,230.0 L110.8,228.3 L111.4,230.2 L112.0,230.8 L112.6,228.9 L113.2,228.2 L113.8,229.4 L114.4,230.7 L115.0,231.6 L115.6,230.0 L116.2,229.7 L116.8,229.1 L117.4,230.1 L118.0,229.1 L118.6,229.7 L119.2,230.3 L119.8,229.6 L120.4,228.8 L121.0,229.8 L121.6,230.3 L122.2,230.3 L122.8,228.3 L123.4,229.8 L124.0,229.8 L124.6,229.2 L125.2,228.6 L125.8,228.9 L126.4,228.8 L127.0,230.9 L127.6,229.6 L128.3,229.2 L128.9,229.7 L129.5,230.3 L130.1,229.3 L130.7,230.0 L131.3,229.8 L131.9,229.0 L132.5,230.4 L133.1,229.5 L133.7,230.1 L134.3,230.3 L134.9,229.0 L135.5,228.8 L136.1,228.9 L136.7,230.8 L137.3,229.3 L137.9,229.0 L138.5,230.4 L139.1,228.8 L139.7,230.6 L140.3,228.8 L140.9,229.5 L141.5,229.3 L142.1,229.5 L142.7,229.9 L143.3,229.7 L143.9,228.4 L144.5,228.5 L145.1,229.1 L145.7,229.7 L146.3,228.9 L146.9,228.7 L147.5,227.8 L148.1,229.5 L148.7,229.2 L149.3,228.4 L149.9,228.8 L150.5,230.1 L151.1,228.6 L151.7,228.5 L152.3,229.5 L152.9,227.7 L153.5,228.7 L154.1,228.8 L154.7,228.4 L155.3,228.6 L155.9,228.7 L156.6,229.0 L157.2,228.7 L157.8,229.3 L158.4,229.4 L159.0,228.8 L159.6,228.6 L160.2,227.2 L160.8,229.4 L161.4,228.9 L162.0,228.9 L162.6,229.4 L163.2,228.2 L163.8,228.2 L164.4,229.1 L165.0,226.2 L165.6,229.2 L166.2,228.7 L166.8,227.6 L167.4,227.9 L168.0,229.2 L168.6,227.9 L169.2,229.0 L169.8,228.7 L170.4,228.4 L171.0,228.3 L171.6,228.3 L172.2,228.1 L172.8,228.5 L173.4,228.9 L174.0,226.9 L174.6,229.3 L175.2,229.8 L175.8,227.1 L176.4,229.1 L177.0,228.3 L177.6,228.7 L178.2,228.1 L178.8,227.4 L179.4,228.6 L180.0,228.2 L180.6,228.4 L181.2,227.4 L181.8,227.9 L182.4,228.7 L183.0,226.9 L183.6,228.2 L184.2,226.8 L184.8,228.6 L185.4,229.5 L186.0,226.9 L186.6,227.8 L187.2,228.2 L187.8,227.1 L188.4,228.5 L189.0,228.0 L189.7,227.6 L190.3,228.5 L190.9,227.8 L191.5,229.5 L192.1,228.5 L192.7,227.8 L193.3,227.8 L193.9,226.8 L194.5,227.0 L195.1,226.8 L195.7,227.7 L196.3,227.6 L196.9,226.4 L197.5,227.4 L198.1,227.1 L198.7,226.7 L199.3,227.5 L199.9,226.9 L200.5,226.5 L201.1,226.6 L201.7,227.1 L202.3,225.9 L202.9,226.4 L203.5,227.0 L204.1,227.4 L204.7,226.9 L205.3,226.6 L205.9,225.6 L206.5,227.4 L207.1,226.1 L207.7,225.9" fill="none" stroke="#ff7a1e" stroke-width="1.8" stroke-linejoin="round"/>
<path d="M59.5,226.4 L59.5,225.9 L59.5,227.4 L59.6,228.9 L59.6,227.9 L59.6,229.5 L59.6,229.5 L59.6,231.2 L59.7,230.8 L59.7,231.3 L59.7,233.1 L59.7,233.5 L59.8,233.2 L59.8,233.0 L59.8,233.8 L59.8,235.5 L59.8,236.1 L59.9,235.7 L59.9,237.7 L59.9,237.9 L59.9,238.0 L60.0,238.8 L60.0,239.5 L60.0,239.7 L60.0,241.0 L60.0,241.2 L60.1,241.8 L60.1,242.9 L60.1,243.3 L60.1,242.9 L60.2,244.2 L60.2,244.3 L60.2,245.5 L60.2,246.3 L60.3,245.9 L60.3,247.7 L60.3,248.8 L60.3,248.6 L60.4,248.5 L60.4,249.6 L60.4,250.4 L60.4,251.1 L60.5,251.7 L60.5,251.7 L60.5,252.4 L60.5,253.6 L60.6,255.4 L60.6,254.6 L60.6,255.1 L60.6,256.0 L60.7,257.1 L60.7,256.9 L60.7,256.2 L60.7,257.8 L60.7,258.3 L60.8,258.7 L60.8,259.2 L60.8,260.0 L60.8,262.4 L60.9,262.0 L60.9,262.4 L60.9,262.2 L60.9,263.3 L60.9,264.3 L61.0,264.6 L61.0,265.2 L61.0,266.7 L61.0,267.2 L61.0,267.4 L61.1,266.9 L61.1,268.3 L61.1,268.3 L61.1,269.1 L61.2,270.0 L61.2,270.9 L61.2,271.8 L61.2,270.7 L61.3,272.9 L61.3,272.8 L61.3,273.7 L61.3,273.8 L61.4,275.7 L61.4,275.5 L61.4,276.5 L61.5,276.3 L61.5,277.8 L61.5,278.0 L61.6,278.1 L61.6,279.0 L61.6,279.4 L61.7,279.9 L61.7,281.6 L61.7,281.6 L61.8,281.9 L61.8,281.9 L61.9,283.8 L61.9,283.8 L62.0,284.3 L62.0,284.6 L62.1,286.4 L62.1,286.8 L62.2,286.7 L62.2,287.2 L62.3,287.9 L62.4,288.6 L62.5,289.3 L62.6,289.2 L62.7,290.2 L62.8,291.1 L62.9,292.3 L63.0,292.6 L63.1,293.0 L63.3,293.1 L63.4,294.3 L63.6,295.1 L63.7,295.7 L63.9,296.4 L64.1,295.9 L64.4,296.2 L64.8,298.5 L65.2,297.6 L65.6,299.1 L66.1,298.8 L66.5,297.4 L66.9,298.7 L67.4,298.1 L67.8,297.5 L68.3,296.9 L68.7,295.5 L69.1,295.7 L69.4,295.3 L69.8,296.2 L70.1,294.5 L70.5,294.5 L70.8,295.4 L71.1,291.4 L71.4,293.8 L71.7,292.5 L72.1,291.4 L72.4,290.1 L72.7,291.8 L73.1,290.6 L73.4,289.4 L73.7,288.2 L74.0,289.8 L74.4,289.8 L74.7,286.9 L75.0,287.2 L75.4,287.1 L75.7,287.2 L76.1,285.5 L76.5,287.4 L76.8,284.9 L77.2,284.2 L77.7,283.3 L78.1,282.6 L78.5,283.9 L78.9,282.9 L79.4,281.6 L79.8,281.0 L80.2,282.5 L80.7,282.3 L81.2,281.4 L81.6,280.6 L82.1,279.5 L82.5,280.6 L83.0,280.5 L83.5,279.1 L84.0,278.3 L84.4,279.8 L84.9,277.1 L85.4,277.9 L85.9,279.1 L86.4,276.9 L86.9,276.3 L87.4,274.1 L88.0,275.0 L88.5,275.4 L89.0,277.0 L89.5,273.7 L90.0,276.7 L90.4,274.2 L90.8,273.5 L91.3,273.6 L91.7,271.4 L92.1,272.5 L92.5,273.0 L92.9,268.9 L93.3,269.3 L93.7,268.4 L94.1,269.3 L94.5,268.8 L94.8,270.0 L95.2,266.8 L95.6,268.8 L96.0,267.0 L96.3,267.9 L96.7,267.7 L97.1,269.1 L97.5,268.3 L97.8,270.8 L98.2,271.0 L98.5,269.0 L98.8,270.0 L99.1,270.5 L99.4,268.8 L99.7,268.3 L100.0,268.3 L100.3,268.7 L100.5,268.2 L100.8,266.2 L101.1,266.9 L101.3,263.7 L101.6,267.1 L101.8,263.9 L102.0,265.1 L102.2,262.7 L102.4,262.2 L102.6,262.4 L102.8,261.7 L103.0,259.3 L103.2,259.7 L103.3,259.5 L103.5,258.7 L103.6,258.2 L103.8,257.4 L104.0,256.9 L104.1,257.2 L104.3,256.0 L104.4,255.3 L104.6,254.2 L104.7,255.5 L104.9,253.5 L105.0,254.7 L105.2,252.4 L105.4,251.1 L105.6,251.3 L105.8,250.6 L105.9,250.0 L106.1,249.7 L106.3,249.0 L106.5,249.7 L106.7,247.1 L106.9,246.4 L107.1,245.9 L107.2,247.4 L107.4,245.5 L107.7,245.3 L107.9,245.9 L108.1,244.0 L108.3,242.7 L108.5,243.1 L108.8,242.9 L109.0,242.9 L109.3,242.0 L109.5,240.8 L109.8,240.3 L110.1,239.7 L110.5,238.9 L110.8,239.3 L111.1,237.9 L111.5,237.4 L111.9,236.4 L112.3,235.8 L112.7,236.1 L113.1,236.1 L113.5,235.0 L114.0,234.8 L114.5,234.1 L115.0,233.8 L115.5,233.6 L116.1,234.2 L116.6,234.5 L117.2,233.8 L117.8,233.1 L118.3,232.4 L118.9,233.2 L119.5,232.0 L120.0,231.7 L120.6,232.9 L121.1,231.6 L121.7,232.7 L122.3,232.1 L122.9,232.5 L123.4,231.1 L124.0,232.2 L124.6,232.1 L125.2,232.1 L125.8,231.1 L126.4,231.5 L127.0,230.8 L127.6,232.3 L128.2,231.5 L128.7,231.4 L129.3,231.9 L129.9,231.2 L130.6,231.5 L131.2,231.2 L131.8,231.7 L132.4,230.2 L133.0,231.8 L133.6,231.3 L134.2,230.7 L134.8,231.8 L135.4,232.3 L136.0,230.8 L136.6,231.1 L137.3,231.1 L137.9,231.4 L138.5,230.3 L139.1,231.0 L139.7,230.6 L140.3,231.1 L140.9,230.5 L141.6,230.7 L142.2,230.6 L142.8,230.6 L143.4,230.9 L144.0,230.9 L144.6,230.1 L145.2,230.4 L145.8,230.6 L146.5,231.1 L147.1,231.4 L147.7,230.5 L148.3,230.8 L148.9,231.3 L149.5,230.9 L150.1,230.4 L150.7,230.3 L151.3,229.9 L151.9,231.3 L152.5,230.6 L153.1,230.2 L153.7,230.2 L154.3,230.9 L154.9,230.7 L155.5,230.7 L156.1,230.6 L156.7,229.8 L157.3,229.8 L157.9,230.2 L158.5,229.7 L159.1,230.1 L159.7,229.7 L160.3,229.7 L160.9,230.3 L161.5,229.4 L162.1,229.4 L162.7,230.5 L163.3,229.0 L163.9,229.8 L164.5,229.6 L165.1,229.3 L165.7,230.3 L166.3,229.1 L166.9,228.3 L167.5,229.9 L168.1,230.3 L168.7,228.5 L169.3,229.4 L169.9,229.2 L170.5,229.3 L171.1,229.5 L171.7,229.2 L172.3,229.2 L172.9,228.1 L173.5,228.3 L174.1,229.3 L174.7,229.0 L175.3,229.0 L175.9,229.2 L176.5,227.9 L177.1,227.8 L177.7,228.2 L178.3,228.9 L178.9,228.6 L179.5,227.9 L180.1,228.3 L180.7,228.4 L181.3,228.2 L181.9,228.3 L182.5,229.0 L183.1,228.2 L183.7,228.3 L184.3,227.9 L184.9,229.0 L185.5,228.4 L186.1,228.0 L186.7,228.1 L187.3,228.5 L187.9,227.6 L188.5,228.5 L189.1,227.2 L189.7,227.2 L190.3,227.4 L190.9,227.0 L191.5,227.9 L192.1,227.5 L192.7,227.8 L193.3,228.3 L193.9,227.0 L194.5,227.9 L195.1,227.2 L195.7,227.8 L196.3,227.9 L196.9,227.2 L197.5,227.7 L198.1,227.1 L198.7,228.0 L199.3,226.8 L199.9,227.2 L200.5,226.3 L201.1,226.7 L201.7,227.2 L202.3,227.3 L202.9,227.2 L203.5,228.3 L204.1,227.2 L204.7,226.2 L205.3,226.8 L205.9,227.1 L206.5,226.3 L207.1,226.0 L207.7,227.3" fill="none" stroke="#1e8c9a" stroke-width="1.8" stroke-linejoin="round"/>
<path d="M59.5,228.0 L59.5,226.8 L59.5,228.6 L59.5,227.3 L59.5,229.0 L59.6,229.9 L59.6,228.7 L59.6,230.3 L59.6,231.4 L59.6,233.1 L59.6,232.0 L59.6,233.4 L59.7,233.1 L59.7,234.6 L59.7,236.1 L59.7,236.2 L59.7,234.9 L59.7,235.7 L59.7,236.1 L59.8,237.4 L59.8,237.4 L59.8,240.1 L59.8,239.6 L59.8,241.5 L59.9,240.7 L59.9,241.4 L59.9,241.8 L59.9,242.7 L59.9,243.4 L60.0,243.9 L60.0,243.9 L60.0,244.2 L60.0,245.6 L60.0,246.7 L60.1,247.1 L60.1,246.7 L60.1,248.5 L60.1,248.3 L60.1,248.0 L60.2,249.7 L60.2,249.4 L60.2,251.7 L60.2,251.6 L60.2,251.6 L60.3,252.4 L60.3,253.3 L60.3,253.6 L60.3,254.0 L60.4,256.3 L60.4,255.4 L60.4,255.9 L60.4,255.7 L60.5,257.9 L60.5,258.4 L60.5,259.1 L60.5,258.8 L60.6,260.9 L60.6,259.9 L60.6,260.5 L60.6,261.7 L60.7,262.2 L60.7,263.4 L60.7,265.2 L60.7,264.3 L60.8,265.7 L60.8,265.9 L60.8,265.6 L60.8,265.6 L60.9,267.0 L60.9,267.0 L60.9,267.8 L61.0,269.1 L61.0,269.2 L61.0,270.7 L61.0,269.5 L61.1,270.6 L61.1,273.6 L61.1,273.1 L61.1,273.3 L61.2,274.2 L61.2,273.5 L61.2,274.2 L61.2,276.1 L61.3,274.8 L61.3,277.1 L61.3,276.0 L61.3,278.7 L61.4,278.9 L61.4,279.0 L61.4,280.0 L61.5,280.5 L61.5,280.4 L61.5,280.7 L61.5,282.0 L61.6,283.1 L61.6,282.7 L61.6,284.1 L61.7,285.7 L61.7,285.1 L61.7,285.7 L61.8,285.4 L61.8,287.9 L61.8,287.5 L61.9,287.9 L61.9,288.0 L61.9,290.1 L62.0,290.0 L62.0,290.8 L62.1,291.0 L62.1,291.1 L62.1,292.6 L62.2,293.2 L62.2,293.1 L62.3,293.7 L62.3,294.7 L62.4,295.1 L62.4,296.9 L62.5,297.9 L62.5,297.0 L62.6,297.3 L62.6,299.0 L62.7,299.2 L62.7,299.6 L62.8,300.1 L62.9,301.3 L62.9,301.5 L63.0,302.1 L63.1,303.0 L63.1,301.6 L63.2,303.9 L63.3,304.5 L63.4,304.9 L63.5,305.2 L63.6,305.2 L63.7,305.5 L63.9,307.2 L64.0,307.0 L64.2,309.5 L64.3,309.5 L64.5,309.6 L64.7,310.9 L64.9,311.0 L65.1,311.2 L65.5,312.8 L65.9,312.7 L66.3,313.2 L66.8,314.1 L67.2,314.2 L67.7,314.3 L68.1,313.2 L68.6,313.2 L69.1,313.8 L69.6,313.2 L70.1,313.1 L70.7,311.0 L71.2,311.6 L71.7,310.9 L72.3,311.2 L72.8,311.4 L73.4,309.9 L73.9,310.1 L74.4,309.7 L75.0,309.9 L75.5,309.1 L76.0,308.5 L76.5,308.0 L77.1,308.0 L77.6,309.3 L78.1,309.2 L78.7,307.8 L79.2,306.3 L79.7,306.8 L80.3,307.2 L80.8,304.3 L81.4,305.4 L81.9,307.3 L82.4,305.3 L83.0,303.8 L83.5,304.2 L84.0,302.4 L84.6,303.7 L85.1,303.4 L85.7,303.2 L86.2,302.9 L86.8,302.7 L87.3,303.6 L87.9,302.6 L88.4,301.7 L88.9,301.9 L89.5,299.6 L90.0,301.1 L90.5,303.1 L91.0,302.2 L91.6,301.2 L92.1,299.4 L92.7,300.0 L93.2,302.0 L93.8,299.4 L94.3,299.0 L94.8,299.9 L95.4,300.1 L95.9,298.9 L96.4,299.4 L96.9,296.8 L97.4,298.6 L97.9,296.6 L98.4,297.0 L98.8,294.2 L99.3,296.1 L99.7,294.9 L100.1,294.9 L100.4,293.7 L100.8,292.8 L101.1,293.1 L101.4,293.3 L101.6,292.2 L101.9,291.5 L102.2,291.0 L102.4,291.6 L102.6,290.1 L102.9,288.9 L103.1,290.0 L103.3,288.5 L103.5,288.2 L103.7,286.4 L103.9,286.7 L104.2,286.4 L104.4,286.2 L104.6,285.4 L104.8,285.2 L105.0,284.0 L105.2,283.0 L105.5,281.8 L105.7,283.0 L106.0,282.0 L106.2,282.7 L106.4,281.8 L106.7,279.6 L106.9,280.0 L107.2,279.4 L107.4,279.0 L107.7,277.2 L107.9,277.0 L108.1,276.4 L108.4,276.9 L108.6,275.6 L108.8,274.4 L109.1,273.9 L109.3,273.8 L109.5,272.5 L109.8,272.1 L110.0,272.1 L110.2,272.2 L110.4,271.2 L110.6,270.5 L110.8,269.2 L111.0,268.7 L111.2,267.6 L111.3,268.4 L111.5,267.6 L111.7,266.7 L111.9,267.9 L112.1,265.8 L112.2,266.1 L112.4,264.8 L112.6,264.5 L112.8,262.9 L113.0,263.1 L113.2,263.0 L113.3,260.5 L113.5,262.2 L113.7,260.1 L113.9,260.0 L114.1,259.3 L114.4,259.7 L114.6,258.8 L114.8,257.5 L115.0,257.0 L115.3,257.1 L115.5,255.9 L115.7,255.3 L116.0,254.8 L116.2,255.2 L116.5,253.1 L116.7,252.5 L117.0,253.1 L117.2,251.9 L117.5,250.8 L117.8,251.6 L118.1,250.2 L118.3,249.4 L118.6,248.7 L118.9,249.9 L119.2,248.4 L119.5,249.0 L119.9,247.9 L120.2,246.6 L120.5,247.5 L120.9,246.1 L121.2,246.2 L121.6,244.4 L122.0,244.0 L122.4,244.1 L122.8,243.5 L123.2,244.1 L123.7,243.5 L124.1,242.1 L124.6,242.5 L125.1,240.4 L125.6,241.4 L126.1,241.2 L126.6,240.0 L127.1,239.6 L127.6,240.0 L128.1,239.3 L128.6,240.2 L129.1,238.3 L129.6,238.8 L130.1,239.2 L130.6,238.7 L131.1,237.9 L131.6,236.9 L132.1,236.8 L132.6,237.0 L133.1,236.2 L133.6,236.0 L134.1,235.3 L134.6,235.1 L135.2,236.0 L135.7,235.4 L136.2,233.1 L136.8,234.4 L137.3,234.5 L137.9,233.1 L138.4,232.9 L139.0,233.1 L139.5,232.9 L140.1,232.8 L140.7,232.2 L141.2,233.9 L141.8,231.7 L142.4,232.6 L143.0,232.5 L143.6,232.0 L144.2,232.2 L144.8,232.5 L145.4,231.2 L145.9,232.0 L146.5,231.9 L147.1,230.7 L147.7,229.5 L148.3,230.9 L148.9,230.9 L149.5,230.3 L150.1,230.4 L150.7,231.3 L151.3,230.3 L151.9,230.6 L152.5,229.9 L153.1,230.0 L153.6,229.8 L154.2,230.1 L154.8,229.8 L155.4,230.0 L156.0,229.7 L156.6,229.9 L157.2,229.9 L157.8,229.4 L158.4,229.0 L159.0,228.4 L159.6,228.2 L160.2,229.4 L160.8,229.0 L161.4,228.7 L162.0,228.3 L162.6,228.8 L163.2,228.4 L163.8,229.2 L164.4,228.6 L165.0,228.0 L165.6,227.9 L166.2,228.3 L166.8,229.8 L167.4,228.2 L168.0,227.5 L168.6,228.1 L169.2,228.6 L169.8,228.7 L170.4,228.6 L171.0,228.6 L171.6,228.2 L172.2,228.2 L172.8,227.5 L173.4,228.3 L174.0,227.9 L174.6,229.0 L175.2,227.1 L175.8,228.8 L176.4,227.4 L177.0,228.1 L177.6,227.4 L178.2,228.5 L178.8,228.1 L179.4,227.6 L180.0,228.5 L180.6,227.6 L181.2,227.2 L181.8,226.8 L182.4,227.6 L183.0,227.5 L183.6,226.8 L184.2,227.2 L184.8,227.6 L185.4,226.8 L186.0,228.4 L186.6,226.6 L187.2,226.9 L187.8,227.2 L188.4,228.6 L189.0,227.3 L189.6,226.7 L190.2,225.9 L190.8,226.5 L191.4,226.4 L192.0,227.5 L192.6,226.5 L193.2,226.3 L193.8,226.8 L194.4,227.1 L195.0,225.7 L195.6,226.4 L196.2,226.7 L196.9,227.4 L197.5,227.8 L198.1,227.3 L198.7,226.8 L199.3,226.2 L199.9,227.4 L200.5,225.7 L201.1,226.6 L201.7,227.0 L202.3,226.4 L202.9,225.9 L203.5,226.5 L204.1,226.1 L204.7,225.8 L205.3,226.3 L205.9,226.1 L206.5,228.2 L207.1,226.1 L207.7,227.3" fill="none" stroke="#1010cc" stroke-width="1.8" stroke-linejoin="round"/>
<path d="M18.7,226.3 L19.6,226.3 L20.4,226.2 L21.3,226.1 L22.2,226.3 L23.0,226.2 L23.9,226.2 L24.8,226.2 L25.6,226.2 L26.5,226.2 L27.4,226.2 L28.2,226.1 L29.1,226.2 L29.9,226.1 L30.8,226.1 L31.6,226.2 L32.4,226.3 L33.3,226.2 L34.1,226.2 L34.9,226.3 L35.7,226.3 L36.5,226.2 L37.3,226.2 L38.1,226.3 L38.9,226.2 L39.7,226.2 L40.4,226.3 L41.2,226.3 L41.9,226.1 L42.7,226.3 L43.4,226.2 L44.1,226.2 L44.8,226.2 L45.5,226.2 L46.2,226.3 L46.9,226.3 L47.5,226.1 L48.2,226.2 L48.8,226.1 L49.4,226.0 L50.0,226.1 L50.6,226.3 L51.2,226.3 L51.7,226.1 L52.3,226.4 L52.8,226.3 L53.3,226.1 L53.8,226.2 L54.3,226.2 L54.7,226.2 L55.2,226.4 L55.6,226.4 L56.0,226.2 L56.4,226.3 L56.7,226.2 L57.1,226.2 L57.4,226.1 L57.7,226.1 L58.0,226.2 L58.2,226.2 L58.5,226.2 L58.7,226.2 L58.9,226.2 L59.0,226.2 L59.2,226.0 L59.3,226.0 L59.4,226.3 L59.5,226.2 L59.5,226.1 L59.5,226.1 L59.6,226.3 L59.6,226.5 L59.6,226.6 L59.7,226.6 L59.7,226.8 L59.7,226.8 L59.8,227.2 L59.8,227.3 L59.8,227.6 L59.9,227.8 L59.9,228.3 L59.9,228.5 L59.9,229.0 L60.0,229.1 L60.0,229.7 L60.0,230.1 L60.0,230.1 L60.0,231.1 L60.1,231.0 L60.1,232.6 L60.1,231.5 L60.1,234.4 L60.1,232.9 L60.2,233.1 L60.2,233.5 L60.2,235.4 L60.2,235.6 L60.2,235.8 L60.2,236.4 L60.3,236.8 L60.3,238.6 L60.3,239.2 L60.3,239.9 L60.3,239.5 L60.3,241.3 L60.3,241.5 L60.4,242.5 L60.4,242.8 L60.4,244.3 L60.4,245.5 L60.4,245.5 L60.4,246.5 L60.4,247.1 L60.4,247.3 L60.5,248.9 L60.5,249.0 L60.5,250.3 L60.5,251.5 L60.5,252.7 L60.5,252.2 L60.5,254.1 L60.5,255.3 L60.5,255.3 L60.6,256.1 L60.6,257.1 L60.6,257.9 L60.6,258.3 L60.6,259.5 L60.6,258.4 L60.6,260.0 L60.7,261.4 L60.7,262.9 L60.7,262.4 L60.7,263.1 L60.7,264.1 L60.7,265.7 L60.7,265.5 L60.8,267.2 L60.8,268.6 L60.8,268.5 L60.8,269.9 L60.8,270.3 L60.8,271.4 L60.9,270.9 L60.9,271.3 L60.9,273.0 L60.9,274.2 L61.0,273.5 L61.0,274.8 L61.0,274.5 L61.0,275.4 L61.0,275.2 L61.1,276.6 L61.1,276.8 L61.1,278.8 L61.1,278.6 L61.2,279.9 L61.2,280.9 L61.2,279.4 L61.2,282.1 L61.3,281.7 L61.3,282.4 L61.3,282.5 L61.3,282.4 L61.3,283.4 L61.4,284.4 L61.4,284.3 L61.4,285.8 L61.4,286.8 L61.5,286.5 L61.5,287.3 L61.5,288.8 L61.5,288.0 L61.6,289.8 L61.6,289.1 L61.6,291.3 L61.6,291.2 L61.7,291.5 L61.7,292.3 L61.7,294.1 L61.7,292.9 L61.8,293.5 L61.8,295.4 L61.8,296.0 L61.9,295.9 L61.9,297.1 L61.9,297.2 L62.0,298.3 L62.0,298.5 L62.0,299.2 L62.1,299.8 L62.1,300.0 L62.1,300.9 L62.2,301.8 L62.2,302.1 L62.3,301.9 L62.3,303.4 L62.3,305.2 L62.4,305.0 L62.4,305.4 L62.5,305.5 L62.5,305.4 L62.6,306.7 L62.6,306.8 L62.6,308.2 L62.7,307.5 L62.7,309.2 L62.8,309.4 L62.9,310.5 L62.9,310.7 L63.0,311.9 L63.0,310.9 L63.1,312.5 L63.2,313.5 L63.2,314.7 L63.3,314.4 L63.4,314.8 L63.5,315.5 L63.6,316.6 L63.7,316.9 L63.9,316.9 L64.0,317.7 L64.1,318.1 L64.3,319.1 L64.4,319.8 L64.6,321.1 L64.7,321.1 L64.9,321.0 L65.1,322.1 L65.3,322.2 L65.5,323.1 L65.8,323.9 L66.1,324.7 L66.4,325.0 L66.7,326.3 L67.1,327.7 L67.5,328.4 L67.9,329.3 L68.3,327.4 L68.7,327.4 L69.1,327.5 L69.5,328.4 L70.0,327.4 L70.5,327.6 L71.0,326.1 L71.6,326.7 L72.1,328.0 L72.7,325.0 L73.3,325.2 L73.8,325.4 L74.4,325.8 L74.9,324.2 L75.4,325.6 L75.9,325.6 L76.4,325.4 L76.9,324.1 L77.4,323.3 L77.9,322.0 L78.4,322.5 L78.8,322.4 L79.3,319.7 L79.8,321.6 L80.3,321.3 L80.7,321.3 L81.2,322.6 L81.7,320.2 L82.2,320.1 L82.7,320.2 L83.1,318.8 L83.6,318.7 L84.1,316.3 L84.5,316.6 L85.0,316.9 L85.5,315.1 L85.9,317.4 L86.4,316.7 L86.9,316.3 L87.3,315.3 L87.8,312.3 L88.3,315.4 L88.8,314.3 L89.3,315.9 L89.8,314.6 L90.3,312.0 L90.9,311.4 L91.5,312.7 L92.1,312.6 L92.8,312.7 L93.4,314.1 L94.0,314.1 L94.7,312.8 L95.3,312.3 L95.9,311.5 L96.4,312.2 L96.9,309.3 L97.3,311.8 L97.6,310.6 L97.9,312.0 L98.2,307.9 L98.5,310.4 L98.7,309.6 L98.9,308.5 L99.2,309.7 L99.4,306.5 L99.6,305.7 L99.8,305.7 L99.9,306.7 L100.1,305.8 L100.3,303.8 L100.4,304.2 L100.6,304.9 L100.8,302.2 L100.9,301.5 L101.1,301.2 L101.2,301.0 L101.4,299.5 L101.5,299.7 L101.7,299.0 L101.9,298.4 L102.0,296.3 L102.2,296.8 L102.4,296.0 L102.6,296.1 L102.7,293.1 L102.9,295.3 L103.1,294.6 L103.3,292.5 L103.4,293.0 L103.6,291.3 L103.8,290.7 L103.9,291.5 L104.1,291.2 L104.3,289.8 L104.4,290.2 L104.6,288.4 L104.8,289.0 L105.0,287.8 L105.1,287.9 L105.3,287.1 L105.5,285.8 L105.6,284.9 L105.8,284.9 L106.0,284.5 L106.2,284.5 L106.4,282.7 L106.6,282.5 L106.7,281.6 L106.9,282.3 L107.1,279.8 L107.3,280.0 L107.5,280.0 L107.7,279.2 L108.0,278.1 L108.2,278.1 L108.4,278.0 L108.6,276.9 L108.8,276.6 L109.0,275.7 L109.2,276.6 L109.5,274.5 L109.7,274.2 L109.9,273.0 L110.1,272.3 L110.4,272.2 L110.6,272.5 L110.8,271.3 L111.1,271.2 L111.3,269.8 L111.5,268.8 L111.8,269.4 L112.0,268.4 L112.2,268.0 L112.4,267.7 L112.7,267.4 L112.9,266.7 L113.1,265.9 L113.4,264.7 L113.6,264.8 L113.8,263.6 L114.0,263.6 L114.2,262.6 L114.5,261.5 L114.7,262.1 L114.9,262.3 L115.1,260.9 L115.3,259.6 L115.6,258.9 L115.8,259.3 L116.0,257.9 L116.2,257.0 L116.5,257.3 L116.7,256.8 L116.9,256.3 L117.2,255.9 L117.4,254.5 L117.7,254.5 L117.9,254.4 L118.2,253.7 L118.5,253.8 L118.7,252.1 L119.0,251.6 L119.3,250.9 L119.6,251.5 L119.9,250.5 L120.3,250.3 L120.6,249.0 L121.0,249.0 L121.3,248.7 L121.7,248.3 L122.1,247.3 L122.5,247.2 L122.9,246.4 L123.3,247.0 L123.7,245.1 L124.1,245.3 L124.5,243.8 L124.9,242.8 L125.4,243.2 L125.8,244.4 L126.2,244.2 L126.6,242.8 L127.1,242.1 L127.5,240.9 L127.9,241.8 L128.3,241.1 L128.8,240.5 L129.2,240.3 L129.7,239.5 L130.1,240.7 L130.6,238.1 L131.0,238.7 L131.5,238.0 L132.0,237.8 L132.4,237.3 L132.9,236.6 L133.4,235.8 L133.9,236.2 L134.4,235.5 L134.8,235.2 L135.3,234.9 L135.8,234.0 L136.3,234.3 L136.9,234.0 L137.4,234.7 L137.9,234.2 L138.4,232.8 L139.0,233.7 L139.5,232.1 L140.1,232.2 L140.6,233.0 L141.2,232.1 L141.7,232.4 L142.3,232.4 L142.9,231.3 L143.5,232.3 L144.1,231.6 L144.7,230.9 L145.3,231.7 L145.9,231.3 L146.5,232.1 L147.1,231.5 L147.7,231.2 L148.3,230.2 L148.9,230.9 L149.5,230.3 L150.1,230.3 L150.7,230.6 L151.3,229.7 L151.9,230.8 L152.5,230.2 L153.1,229.4 L153.7,229.8 L154.3,229.9 L154.9,229.8 L155.5,229.2 L156.1,228.4 L156.6,228.9 L157.2,229.3 L157.8,229.1 L158.4,228.7 L159.0,229.2 L159.6,229.1 L160.2,229.3 L160.8,229.1 L161.4,229.3 L162.0,227.7 L162.6,228.8 L163.2,227.0 L163.8,228.4 L164.4,228.6 L165.0,227.8 L165.6,229.1 L166.2,228.9 L166.8,228.3 L167.4,228.8 L168.0,228.9 L168.6,226.9 L169.2,228.1 L169.8,228.1 L170.4,229.6 L171.0,227.4 L171.6,228.1 L172.2,229.2 L172.8,228.2 L173.4,228.1 L174.0,229.8 L174.6,227.9 L175.2,228.2 L175.8,228.1 L176.4,226.5 L177.0,227.2 L177.6,226.9 L178.2,227.4 L178.8,227.4 L179.4,228.2 L180.0,228.3 L180.6,228.4 L181.2,227.8 L181.8,227.4 L182.4,227.0 L183.0,225.3 L183.6,228.0 L184.2,227.7 L184.8,227.2 L185.4,227.2 L186.1,227.4 L186.7,227.2 L187.3,227.2 L187.9,227.3 L188.5,226.7 L189.1,226.4 L189.7,226.8 L190.3,226.7 L190.9,227.2 L191.5,227.0 L192.1,226.7 L192.7,228.8 L193.3,226.8 L193.9,226.6 L194.5,226.7 L195.1,227.4 L195.7,227.2 L196.3,226.6 L196.9,226.3 L197.5,228.1 L198.1,226.1 L198.7,226.1 L199.3,226.7 L199.9,226.7 L200.5,226.8 L201.1,226.2 L201.7,227.2 L202.3,226.6 L202.9,227.3 L203.5,226.6 L204.1,227.1 L204.7,226.7 L205.3,227.4 L205.9,227.3 L206.5,226.1 L207.1,226.8 L207.7,227.4" fill="none" stroke="#000000" stroke-width="1.8" stroke-linejoin="round"/>
<line x1="157.2" y1="256.4" x2="170.8" y2="256.4" stroke="#000000" stroke-width="1.6"/>
<line x1="157.2" y1="274.2" x2="170.8" y2="274.2" stroke="#1010cc" stroke-width="1.6"/>
<line x1="157.2" y1="292.0" x2="170.8" y2="292.0" stroke="#1e8c9a" stroke-width="1.6"/>
<line x1="157.2" y1="309.9" x2="170.8" y2="309.9" stroke="#ff7a1e" stroke-width="1.6"/>
<line x1="157.2" y1="327.7" x2="170.8" y2="327.7" stroke="#f2161c" stroke-width="1.6"/>
<path d="M122.3,322.6 V346.6 H161.5" fill="none" stroke="#000" stroke-width="1.4"/>
<path d="M302.6,206.6 V336.9 H499.1" fill="none" stroke="#000" stroke-width="1.4"/>
<line x1="299.1" y1="336.9" x2="302.6" y2="336.9" stroke="#000" stroke-width="1.3"/>
<text x="297.20" y="340.50" font-size="9.5" text-anchor="end" font-weight="bold" stroke="#111" stroke-width="0.15">0</text>
<line x1="299.1" y1="310.8" x2="302.6" y2="310.8" stroke="#000" stroke-width="1.3"/>
<text x="297.20" y="314.44" font-size="9.5" text-anchor="end" font-weight="bold" stroke="#111" stroke-width="0.15">20</text>
<line x1="299.1" y1="284.8" x2="302.6" y2="284.8" stroke="#000" stroke-width="1.3"/>
<text x="297.20" y="288.38" font-size="9.5" text-anchor="end" font-weight="bold" stroke="#111" stroke-width="0.15">40</text>
<line x1="299.1" y1="258.7" x2="302.6" y2="258.7" stroke="#000" stroke-width="1.3"/>
<text x="297.20" y="262.32" font-size="9.5" text-anchor="end" font-weight="bold" stroke="#111" stroke-width="0.15">60</text>
<line x1="299.1" y1="232.7" x2="302.6" y2="232.7" stroke="#000" stroke-width="1.3"/>
<text x="297.20" y="236.26" font-size="9.5" text-anchor="end" font-weight="bold" stroke="#111" stroke-width="0.15">80</text>
<line x1="299.1" y1="206.6" x2="302.6" y2="206.6" stroke="#000" stroke-width="1.3"/>
<text x="297.20" y="210.20" font-size="9.5" text-anchor="end" font-weight="bold" stroke="#111" stroke-width="0.15">100</text>
<line x1="302.6" y1="336.9" x2="302.6" y2="339.9" stroke="#000" stroke-width="1.3"/>
<text x="302.30" y="351.90" font-size="9.5" text-anchor="middle" font-weight="bold" stroke="#111" stroke-width="0.15">-8</text>
<line x1="341.9" y1="336.9" x2="341.9" y2="339.9" stroke="#000" stroke-width="1.3"/>
<text x="341.60" y="351.90" font-size="9.5" text-anchor="middle" font-weight="bold" stroke="#111" stroke-width="0.15">-7</text>
<line x1="381.2" y1="336.9" x2="381.2" y2="339.9" stroke="#000" stroke-width="1.3"/>
<text x="380.90" y="351.90" font-size="9.5" text-anchor="middle" font-weight="bold" stroke="#111" stroke-width="0.15">-6</text>
<line x1="420.5" y1="336.9" x2="420.5" y2="339.9" stroke="#000" stroke-width="1.3"/>
<text x="420.20" y="351.90" font-size="9.5" text-anchor="middle" font-weight="bold" stroke="#111" stroke-width="0.15">-5</text>
<line x1="459.8" y1="336.9" x2="459.8" y2="339.9" stroke="#000" stroke-width="1.3"/>
<text x="459.50" y="351.90" font-size="9.5" text-anchor="middle" font-weight="bold" stroke="#111" stroke-width="0.15">-4</text>
<line x1="499.1" y1="336.9" x2="499.1" y2="339.9" stroke="#000" stroke-width="1.3"/>
<text x="498.80" y="351.90" font-size="9.5" text-anchor="middle" font-weight="bold" stroke="#111" stroke-width="0.15">-3</text>
<text x="0" y="0" font-size="10.5" stroke="#111" stroke-width="0.2" text-anchor="middle" textLength="80.0" lengthAdjust="spacingAndGlyphs" transform="translate(275.0,272.0) rotate(-90)">% ACh response</text>
<path d="M302.6,209.8 L303.6,209.9 L304.6,210.0 L305.6,210.1 L306.5,210.3 L307.5,210.4 L308.5,210.6 L309.5,210.7 L310.5,210.9 L311.5,211.0 L312.5,211.2 L313.5,211.4 L314.4,211.5 L315.4,211.7 L316.4,211.9 L317.4,212.1 L318.4,212.3 L319.4,212.5 L320.4,212.7 L321.4,213.0 L322.3,213.2 L323.3,213.5 L324.3,213.7 L325.3,214.0 L326.3,214.2 L327.3,214.5 L328.3,214.8 L329.3,215.1 L330.2,215.4 L331.2,215.7 L332.2,216.1 L333.2,216.4 L334.2,216.8 L335.2,217.1 L336.2,217.5 L337.2,217.9 L338.1,218.3 L339.1,218.7 L340.1,219.1 L341.1,219.6 L342.1,220.0 L343.1,220.5 L344.1,221.0 L345.1,221.4 L346.0,222.0 L347.0,222.5 L348.0,223.0 L349.0,223.6 L350.0,224.2 L351.0,224.7 L352.0,225.3 L353.0,226.0 L353.9,226.6 L354.9,227.3 L355.9,227.9 L356.9,228.6 L357.9,229.3 L358.9,230.1 L359.9,230.8 L360.9,231.6 L361.8,232.3 L362.8,233.1 L363.8,234.0 L364.8,234.8 L365.8,235.6 L366.8,236.5 L367.8,237.4 L368.8,238.3 L369.7,239.2 L370.7,240.2 L371.7,241.1 L372.7,242.1 L373.7,243.1 L374.7,244.1 L375.7,245.1 L376.7,246.2 L377.6,247.2 L378.6,248.3 L379.6,249.4 L380.6,250.5 L381.6,251.6 L382.6,252.8 L383.6,253.9 L384.6,255.1 L385.5,256.2 L386.5,257.4 L387.5,258.6 L388.5,259.8 L389.5,261.0 L390.5,262.2 L391.5,263.4 L392.5,264.7 L393.4,265.9 L394.4,267.1 L395.4,268.4 L396.4,269.6 L397.4,270.9 L398.4,272.1 L399.4,273.3 L400.4,274.6 L401.3,275.8 L402.3,277.1 L403.3,278.3 L404.3,279.5 L405.3,280.8 L406.3,282.0 L407.3,283.2 L408.3,284.4 L409.2,285.6 L410.2,286.8 L411.2,287.9 L412.2,289.1 L413.2,290.2 L414.2,291.4 L415.2,292.5 L416.2,293.6 L417.1,294.7 L418.1,295.8 L419.1,296.9 L420.1,297.9 L421.1,298.9 L422.1,300.0 L423.1,301.0 L424.1,302.0 L425.0,302.9 L426.0,303.9 L427.0,304.8 L428.0,305.7 L429.0,306.6 L430.0,307.5 L431.0,308.4 L432.0,309.2 L432.9,310.0 L433.9,310.8 L434.9,311.6 L435.9,312.4 L436.9,313.1 L437.9,313.9 L438.9,314.6 L439.9,315.3 L440.8,316.0 L441.8,316.6 L442.8,317.3 L443.8,317.9 L444.8,318.5 L445.8,319.1 L446.8,319.7 L447.8,320.2 L448.7,320.8 L449.7,321.3 L450.7,321.8 L451.7,322.3 L452.7,322.8 L453.7,323.3 L454.7,323.8 L455.7,324.2 L456.6,324.6 L457.6,325.0 L458.6,325.5 L459.6,325.8 L460.6,326.2 L461.6,326.6 L462.6,327.0 L463.6,327.3 L464.5,327.6 L465.5,328.0 L466.5,328.3 L467.5,328.6 L468.5,328.9 L469.5,329.1 L470.5,329.4 L471.5,329.7 L472.4,329.9 L473.4,330.2 L474.4,330.4 L475.4,330.7 L476.4,330.9 L477.4,331.1 L478.4,331.3 L479.4,331.5 L480.3,331.7 L481.3,331.9 L482.3,332.1 L483.3,332.2 L484.3,332.4 L485.3,332.6 L486.3,332.7 L487.3,332.9 L488.2,333.0 L489.2,333.2 L490.2,333.3 L491.2,333.4 L492.2,333.6 L493.2,333.7 L494.2,333.8 L495.2,333.9 L496.1,334.0 L497.1,334.1 L498.1,334.2 L499.1,334.3" fill="none" stroke="#1010cc" stroke-width="1.6"/>
<path d="M339.0,221 H344.8 M341.9,221 V229.2 M339.0,229.2 H344.8" stroke="#1010cc" stroke-width="0.8" fill="none" opacity="0.85"/><circle cx="341.9" cy="225.0" r="3.15" fill="#1010cc"/>
<path d="M378.3,242.2 H384.1 M381.2,242.2 V257.2 M378.3,257.2 H384.1" stroke="#1010cc" stroke-width="0.8" fill="none" opacity="0.85"/><circle cx="381.2" cy="250.0" r="3.15" fill="#1010cc"/>
<path d="M417.6,286.5 H423.4 M420.5,286.5 V303.6 M417.6,303.6 H423.4" stroke="#1010cc" stroke-width="0.8" fill="none" opacity="0.85"/><circle cx="420.5" cy="295.1" r="3.15" fill="#1010cc"/>
<circle cx="459.8" cy="331.6" r="3.15" fill="#1010cc"/>
<rect x="60" y="406.9" width="42.8" height="1.9" fill="#000"/>
<path d="M20.0,418.3 L20.9,418.2 L21.7,418.4 L22.6,418.2 L23.4,417.9 L24.3,418.2 L25.2,418.3 L26.0,418.4 L26.9,418.6 L27.8,417.9 L28.6,418.1 L29.5,418.2 L30.3,418.4 L31.2,418.2 L32.0,418.1 L32.9,418.2 L33.7,418.0 L34.5,418.1 L35.4,418.3 L36.2,418.2 L37.0,417.9 L37.8,417.8 L38.6,418.5 L39.4,418.5 L40.2,418.2 L40.9,418.2 L41.7,418.4 L42.5,418.4 L43.2,418.5 L43.9,418.5 L44.7,418.3 L45.4,417.8 L46.1,418.3 L46.8,418.1 L47.4,417.9 L48.1,418.3 L48.7,418.5 L49.4,418.1 L50.0,418.3 L50.6,418.4 L51.2,418.3 L51.7,418.3 L52.3,418.1 L52.8,418.2 L53.3,418.2 L53.8,418.3 L54.3,418.2 L54.8,418.0 L55.2,418.1 L55.6,418.3 L56.0,418.2 L56.4,418.1 L56.8,418.3 L57.1,418.1 L57.4,418.5 L57.7,418.2 L58.0,418.8 L58.2,418.3 L58.4,418.0 L58.6,418.4 L58.8,418.1 L58.9,418.1 L59.0,418.2 L59.1,418.6 L59.2,418.2 L59.2,418.0 L59.2,417.9 L59.2,418.1 L59.2,418.3 L59.3,418.3 L59.3,418.5 L59.3,418.6 L59.3,418.8 L59.3,418.5 L59.3,419.6 L59.3,419.2 L59.3,419.7 L59.3,420.0 L59.4,420.4 L59.4,420.8 L59.4,421.0 L59.4,421.6 L59.4,421.5 L59.4,422.5 L59.4,422.6 L59.4,423.3 L59.4,423.6 L59.4,424.2 L59.4,424.7 L59.4,425.4 L59.5,425.4 L59.5,426.1 L59.5,426.9 L59.5,427.3 L59.5,428.3 L59.5,428.3 L59.5,429.5 L59.5,429.7 L59.5,430.0 L59.5,431.3 L59.5,431.4 L59.5,432.4 L59.5,433.4 L59.5,434.0 L59.5,434.7 L59.5,435.2 L59.5,436.0 L59.6,436.4 L59.6,437.3 L59.6,438.0 L59.6,438.8 L59.6,439.9 L59.6,440.4 L59.6,441.1 L59.6,441.9 L59.6,443.1 L59.6,443.6 L59.6,444.4 L59.6,445.2 L59.6,445.9 L59.6,446.9 L59.6,447.7 L59.6,448.2 L59.6,449.1 L59.6,449.8 L59.6,450.8 L59.6,452.0 L59.6,452.3 L59.6,453.4 L59.7,453.8 L59.7,454.8 L59.7,455.7 L59.7,456.3 L59.7,457.2 L59.7,458.2 L59.7,458.4 L59.7,459.5 L59.7,460.4 L59.7,461.2 L59.7,461.6 L59.7,462.2 L59.7,463.2 L59.7,463.7 L59.7,464.4 L59.7,465.1 L59.7,465.6 L59.8,466.9 L59.8,467.6 L59.8,468.3 L59.8,468.7 L59.8,469.1 L59.8,469.7 L59.8,470.6 L59.8,471.0 L59.8,471.9 L59.8,472.2 L59.8,472.9 L59.8,473.8 L59.9,474.0 L59.9,474.4 L59.9,475.1 L59.9,476.2 L59.9,476.7 L59.9,476.9 L59.9,477.8 L59.9,478.3 L59.9,479.2 L59.9,479.6 L59.9,480.1 L59.9,480.7 L59.9,481.5 L60.0,482.3 L60.0,482.4 L60.0,483.4 L60.0,483.6 L60.0,484.4 L60.0,484.8 L60.0,485.7 L60.0,485.9 L60.0,487.1 L60.0,487.5 L60.0,487.8 L60.0,488.5 L60.1,488.9 L60.1,489.9 L60.1,490.3 L60.1,491.2 L60.1,491.2 L60.1,492.3 L60.1,492.8 L60.1,493.8 L60.2,494.1 L60.2,494.8 L60.2,495.5 L60.2,496.0 L60.2,496.2 L60.2,497.2 L60.2,497.8 L60.3,498.3 L60.3,498.5 L60.3,499.4 L60.3,499.9 L60.3,500.8 L60.3,501.1 L60.4,501.8 L60.4,502.4 L60.4,503.0 L60.4,503.6 L60.5,503.9 L60.5,504.5 L60.5,505.5 L60.5,506.1 L60.6,506.7 L60.6,507.8 L60.7,508.0 L60.8,509.3 L60.9,509.5 L60.9,510.4 L61.0,511.4 L61.1,512.2 L61.3,513.1 L61.4,513.4 L61.5,514.0 L61.7,514.9 L61.8,515.5 L62.0,515.3 L62.1,513.5 L62.3,514.4 L62.5,517.2 L62.7,514.6 L62.9,516.6 L63.3,515.9 L63.7,515.3 L64.1,516.5 L64.6,514.5 L65.1,516.9 L65.6,514.9 L66.2,513.8 L66.7,511.5 L67.3,511.5 L67.8,511.8 L68.3,510.4 L68.7,509.6 L69.2,509.7 L69.6,509.7 L70.0,509.8 L70.5,508.7 L70.9,508.9 L71.3,507.7 L71.7,509.2 L72.1,507.7 L72.5,507.0 L72.9,505.7 L73.3,505.1 L73.7,504.8 L74.2,504.8 L74.6,502.4 L75.0,502.8 L75.4,503.1 L75.8,502.7 L76.3,501.7 L76.7,502.4 L77.1,503.4 L77.6,501.0 L78.1,502.2 L78.5,500.0 L79.0,500.3 L79.5,501.4 L80.0,500.9 L80.4,499.6 L80.9,498.9 L81.4,500.9 L81.9,496.4 L82.5,499.1 L83.0,496.9 L83.5,495.6 L84.0,498.3 L84.6,496.0 L85.1,497.0 L85.6,495.8 L86.2,497.1 L86.7,496.2 L87.3,497.4 L87.9,495.4 L88.5,495.3 L89.1,494.1 L89.7,496.7 L90.3,496.0 L91.0,495.4 L91.6,495.0 L92.2,495.9 L92.7,495.2 L93.3,495.2 L93.9,494.7 L94.5,496.9 L95.1,494.5 L95.7,494.0 L96.3,492.8 L96.8,494.9 L97.4,494.4 L98.0,493.9 L98.5,494.1 L99.0,494.0 L99.5,491.9 L99.9,491.1 L100.4,490.4 L100.8,493.0 L101.2,490.9 L101.6,492.0 L102.0,490.5 L102.4,488.7 L102.7,491.5 L103.0,488.7 L103.3,488.2 L103.5,486.9 L103.7,487.3 L103.9,485.3 L104.1,483.9 L104.2,484.4 L104.4,484.6 L104.5,484.1 L104.6,482.4 L104.8,482.1 L104.9,482.8 L105.0,480.3 L105.1,479.9 L105.3,481.0 L105.4,479.4 L105.5,479.4 L105.6,478.9 L105.8,477.3 L105.9,477.4 L106.0,477.4 L106.2,476.3 L106.4,476.1 L106.5,475.0 L106.7,473.3 L106.9,473.5 L107.1,473.6 L107.2,472.5 L107.4,472.5 L107.6,472.9 L107.8,471.3 L108.0,470.3 L108.2,470.7 L108.4,470.9 L108.6,468.8 L108.8,468.8 L109.0,466.0 L109.1,468.0 L109.3,466.5 L109.5,465.0 L109.7,466.6 L109.8,463.8 L110.0,466.6 L110.2,462.9 L110.4,463.0 L110.5,462.2 L110.7,460.7 L110.9,460.1 L111.1,462.0 L111.3,461.2 L111.5,459.6 L111.7,458.9 L111.9,457.4 L112.1,460.5 L112.4,456.6 L112.7,458.0 L112.9,456.3 L113.2,456.9 L113.5,456.1 L113.8,456.0 L114.1,454.4 L114.4,455.2 L114.7,452.0 L115.0,452.2 L115.3,451.2 L115.6,451.2 L115.9,451.0 L116.2,450.6 L116.5,448.9 L116.8,449.6 L117.1,449.0 L117.4,446.8 L117.7,448.5 L118.0,448.3 L118.3,446.2 L118.6,443.9 L118.9,446.6 L119.2,444.4 L119.5,445.6 L119.8,443.8 L120.2,444.2 L120.5,444.1 L120.8,443.3 L121.1,441.2 L121.5,443.2 L121.8,441.4 L122.2,440.3 L122.6,440.3 L122.9,438.7 L123.3,441.1 L123.7,438.0 L124.2,437.9 L124.6,437.1 L125.1,438.4 L125.5,436.9 L126.0,437.1 L126.5,436.2 L126.9,435.0 L127.4,436.5 L127.9,436.4 L128.4,435.4 L128.9,435.3 L129.4,433.3 L130.0,434.4 L130.5,433.9 L131.0,432.2 L131.5,431.4 L132.0,433.0 L132.6,433.5 L133.2,432.7 L133.7,433.0 L134.3,432.5 L134.8,430.9 L135.4,431.5 L136.0,432.1 L136.5,429.8 L137.1,430.7 L137.7,429.7 L138.2,431.2 L138.8,430.5 L139.3,430.3 L139.9,430.8 L140.4,429.3 L141.0,429.6 L141.6,428.7 L142.1,426.5 L142.7,428.3 L143.2,428.9 L143.8,427.5 L144.4,428.0 L145.0,428.4 L145.6,426.9 L146.1,428.7 L146.7,427.8 L147.3,426.7 L147.9,429.9 L148.5,427.1 L149.1,426.7 L149.7,427.1 L150.3,427.1 L150.9,428.2 L151.5,426.6 L152.1,426.4 L152.7,426.0 L153.3,426.6 L153.9,426.7 L154.5,424.8 L155.1,425.8 L155.7,425.3 L156.3,425.9 L156.9,427.5 L157.5,426.2 L158.1,427.7 L158.7,426.3 L159.3,425.2 L159.9,426.8 L160.5,426.4 L161.1,427.7 L161.7,425.0 L162.3,425.2 L162.9,425.3 L163.5,425.8 L164.1,425.2 L164.7,425.3 L165.3,425.8 L165.9,426.5 L166.5,424.4 L167.1,425.9 L167.7,424.3 L168.3,424.7 L168.9,425.1 L169.5,424.2 L170.1,424.4 L170.7,427.3 L171.3,426.4 L171.9,424.8 L172.5,424.2 L173.1,426.3 L173.7,424.7 L174.3,425.0 L174.9,424.1 L175.5,424.3 L176.1,424.3 L176.7,425.8 L177.3,423.6 L177.9,423.1 L178.5,424.5 L179.1,425.4 L179.7,426.9 L180.3,423.2 L180.9,423.4 L181.5,423.5 L182.1,422.8 L182.7,423.3 L183.3,425.8 L183.9,424.8 L184.5,424.1 L185.1,423.9 L185.7,423.7 L186.3,423.6 L186.9,422.5 L187.5,424.1 L188.1,423.8 L188.7,424.0 L189.3,423.5 L189.9,422.8 L190.5,424.2 L191.1,423.4 L191.7,423.7 L192.3,423.6 L192.9,424.8 L193.5,422.4 L194.1,425.4 L194.7,423.1 L195.3,422.0 L195.9,422.1 L196.5,423.3 L197.1,422.2 L197.7,423.0 L198.3,423.4 L198.9,423.5 L199.5,423.2 L200.1,422.8 L200.7,422.5 L201.3,423.7 L201.9,421.3 L202.5,422.5 L203.1,422.2 L203.7,421.3 L204.3,421.6 L204.9,422.2 L205.5,423.4 L206.1,423.2 L206.7,423.3 L207.3,421.8" fill="none" stroke="#000000" stroke-width="1.8" stroke-linejoin="round"/>
<path d="M20.0,417.9 L20.9,417.7 L21.7,418.0 L22.6,417.8 L23.4,418.1 L24.3,418.9 L25.2,418.2 L26.0,418.3 L26.9,417.7 L27.7,417.7 L28.6,418.3 L29.5,417.7 L30.3,417.7 L31.2,418.1 L32.0,417.8 L32.9,418.2 L33.7,417.7 L34.5,418.3 L35.3,417.2 L36.2,417.7 L37.0,417.5 L37.8,418.1 L38.6,417.5 L39.4,418.4 L40.2,417.7 L40.9,418.3 L41.7,418.0 L42.5,418.4 L43.2,418.4 L43.9,417.8 L44.6,418.0 L45.4,418.3 L46.1,418.1 L46.7,418.5 L47.4,418.5 L48.1,417.9 L48.7,417.4 L49.3,418.0 L50.0,418.5 L50.6,417.9 L51.1,417.8 L51.7,417.9 L52.3,418.2 L52.8,418.5 L53.3,417.3 L53.8,418.3 L54.3,417.8 L54.7,417.5 L55.2,418.3 L55.6,417.9 L56.0,417.8 L56.4,418.0 L56.7,417.7 L57.1,418.2 L57.4,417.8 L57.7,418.7 L57.9,418.2 L58.2,417.9 L58.4,417.9 L58.6,417.6 L58.8,418.2 L58.9,418.2 L59.0,417.3 L59.1,418.1 L59.2,418.2 L59.2,418.3 L59.2,417.9 L59.2,417.8 L59.2,418.1 L59.3,418.5 L59.3,418.5 L59.3,418.6 L59.3,418.5 L59.3,418.5 L59.3,418.5 L59.3,419.4 L59.3,419.4 L59.3,419.9 L59.4,421.0 L59.4,420.0 L59.4,421.3 L59.4,420.9 L59.4,421.5 L59.4,421.8 L59.4,422.4 L59.4,423.0 L59.4,423.5 L59.4,424.4 L59.4,424.2 L59.4,425.2 L59.5,425.2 L59.5,425.6 L59.5,426.5 L59.5,426.6 L59.5,428.1 L59.5,428.8 L59.5,428.8 L59.5,429.1 L59.5,430.4 L59.5,430.9 L59.5,431.8 L59.5,431.9 L59.5,433.0 L59.5,433.8 L59.5,435.1 L59.5,434.8 L59.5,436.1 L59.6,436.4 L59.6,437.3 L59.6,438.6 L59.6,438.3 L59.6,439.0 L59.6,440.3 L59.6,441.0 L59.6,442.6 L59.6,442.3 L59.6,444.1 L59.6,444.2 L59.6,445.3 L59.6,445.6 L59.6,446.1 L59.6,447.3 L59.6,448.5 L59.6,448.8 L59.6,449.5 L59.6,450.9 L59.6,450.3 L59.6,452.1 L59.6,453.1 L59.7,453.4 L59.7,454.4 L59.7,455.6 L59.7,456.1 L59.7,456.4 L59.7,457.7 L59.7,457.9 L59.7,459.5 L59.7,460.3 L59.7,460.9 L59.7,461.8 L59.7,462.2 L59.7,462.3 L59.7,463.4 L59.7,464.4 L59.7,465.4 L59.7,465.7 L59.8,466.9 L59.8,466.7 L59.8,468.1 L59.8,467.5 L59.8,469.2 L59.8,469.3 L59.8,470.4 L59.8,470.7 L59.8,471.2 L59.8,472.2 L59.8,473.0 L59.8,473.4 L59.9,474.6 L59.9,474.3 L59.9,475.1 L59.9,475.4 L59.9,476.3 L59.9,477.2 L59.9,478.0 L59.9,478.1 L59.9,478.1 L59.9,479.1 L59.9,479.9 L59.9,480.6 L59.9,481.4 L60.0,482.1 L60.0,482.1 L60.0,482.5 L60.0,482.9 L60.0,484.1 L60.0,485.3 L60.0,485.3 L60.0,486.4 L60.0,486.1 L60.0,486.9 L60.0,487.6 L60.0,488.0 L60.1,488.8 L60.1,489.6 L60.1,490.1 L60.1,491.0 L60.1,491.4 L60.1,492.1 L60.1,492.2 L60.1,493.0 L60.1,493.6 L60.2,494.7 L60.2,494.8 L60.2,495.4 L60.2,495.9 L60.2,497.1 L60.2,497.2 L60.3,497.6 L60.3,498.1 L60.3,498.7 L60.3,500.1 L60.3,499.9 L60.3,501.2 L60.4,502.1 L60.4,502.0 L60.4,503.0 L60.4,503.9 L60.5,503.5 L60.5,504.5 L60.5,506.1 L60.5,505.8 L60.6,506.6 L60.6,507.6 L60.7,507.7 L60.8,508.7 L60.8,509.5 L60.9,511.2 L61.0,511.3 L61.1,511.3 L61.2,512.9 L61.3,513.2 L61.5,513.9 L61.6,514.4 L61.8,514.7 L61.9,515.7 L62.1,514.5 L62.2,516.3 L62.4,516.7 L62.6,516.7 L62.9,516.1 L63.3,516.8 L63.7,516.4 L64.2,515.4 L64.7,515.8 L65.3,513.7 L65.9,514.9 L66.5,514.4 L67.0,511.9 L67.6,512.4 L68.1,512.8 L68.6,510.1 L69.1,510.7 L69.6,511.1 L70.0,511.2 L70.4,511.6 L70.8,510.4 L71.3,507.9 L71.7,507.4 L72.1,507.0 L72.5,507.6 L72.9,507.4 L73.3,506.2 L73.7,505.8 L74.1,506.3 L74.5,506.4 L74.9,506.3 L75.3,504.1 L75.8,504.9 L76.2,502.2 L76.6,502.9 L77.1,503.3 L77.5,502.4 L78.0,501.5 L78.4,501.4 L78.9,501.3 L79.4,501.4 L79.9,501.5 L80.3,499.5 L80.8,499.4 L81.3,500.0 L81.8,499.0 L82.3,498.3 L82.9,498.3 L83.4,498.4 L83.9,496.6 L84.4,497.9 L85.0,496.0 L85.5,495.9 L86.1,496.7 L86.6,497.1 L87.2,496.3 L87.8,496.8 L88.4,496.9 L89.0,497.3 L89.6,498.6 L90.2,496.3 L90.8,496.1 L91.4,495.7 L92.0,497.1 L92.6,495.3 L93.2,495.4 L93.8,493.4 L94.4,495.7 L94.9,494.8 L95.5,495.0 L96.1,496.4 L96.7,495.1 L97.3,494.3 L97.8,493.1 L98.4,494.9 L98.9,492.8 L99.4,492.6 L99.8,492.5 L100.3,491.7 L100.7,490.6 L101.1,491.6 L101.5,491.3 L101.9,491.0 L102.3,490.7 L102.6,490.8 L102.9,489.6 L103.2,488.6 L103.4,488.2 L103.6,487.6 L103.8,487.9 L104.0,487.1 L104.2,486.4 L104.3,484.8 L104.5,485.7 L104.6,484.4 L104.7,483.5 L104.9,483.7 L105.0,483.3 L105.1,482.3 L105.2,481.2 L105.3,480.6 L105.5,480.6 L105.6,479.5 L105.7,478.6 L105.9,478.6 L106.0,478.2 L106.1,477.5 L106.3,476.5 L106.5,476.4 L106.7,475.5 L106.8,475.2 L107.0,475.4 L107.2,473.8 L107.4,473.2 L107.6,473.2 L107.8,472.5 L108.0,470.3 L108.1,469.6 L108.3,470.2 L108.5,470.2 L108.7,469.0 L108.9,469.3 L109.1,467.8 L109.3,467.8 L109.5,466.8 L109.6,466.1 L109.8,464.2 L110.0,465.0 L110.2,464.8 L110.3,464.8 L110.5,464.1 L110.7,462.8 L110.9,462.7 L111.1,462.0 L111.3,459.9 L111.4,460.6 L111.6,460.7 L111.9,460.4 L112.1,458.4 L112.3,458.0 L112.5,458.0 L112.7,457.6 L113.0,456.9 L113.2,456.5 L113.4,455.6 L113.7,454.5 L113.9,453.6 L114.2,453.1 L114.4,453.3 L114.7,452.1 L115.0,451.9 L115.2,451.0 L115.5,451.1 L115.8,450.2 L116.0,450.8 L116.3,448.9 L116.6,448.8 L116.9,448.9 L117.1,449.6 L117.4,447.1 L117.7,446.4 L118.0,446.6 L118.3,445.9 L118.6,445.3 L118.9,444.7 L119.2,444.7 L119.5,442.7 L119.8,442.3 L120.2,442.1 L120.5,442.2 L120.8,442.5 L121.2,441.1 L121.5,440.4 L121.9,441.2 L122.2,438.9 L122.6,438.9 L123.0,439.7 L123.4,438.2 L123.8,437.1 L124.2,437.7 L124.7,437.1 L125.1,437.6 L125.6,435.8 L126.0,436.0 L126.5,436.0 L127.0,434.3 L127.5,435.2 L128.0,434.3 L128.5,435.1 L129.0,433.3 L129.5,433.8 L130.0,433.6 L130.5,433.5 L131.0,433.2 L131.6,431.7 L132.1,432.3 L132.7,431.6 L133.2,431.3 L133.8,430.9 L134.3,430.7 L134.9,431.6 L135.5,430.8 L136.0,431.4 L136.6,430.3 L137.2,430.7 L137.7,429.3 L138.3,430.0 L138.8,429.2 L139.4,429.5 L139.9,429.6 L140.5,428.5 L141.0,428.2 L141.6,427.5 L142.2,428.4 L142.7,427.8 L143.3,426.9 L143.9,428.1 L144.4,427.3 L145.0,426.4 L145.6,427.2 L146.2,427.4 L146.8,427.1 L147.4,426.5 L148.0,426.8 L148.5,426.7 L149.1,427.1 L149.7,426.9 L150.3,425.7 L150.9,426.4 L151.5,427.3 L152.1,428.1 L152.7,426.3 L153.3,424.9 L153.9,425.5 L154.5,425.1 L155.1,425.1 L155.7,425.2 L156.3,425.6 L156.9,425.1 L157.5,425.2 L158.1,424.4 L158.7,424.3 L159.3,425.7 L159.9,423.8 L160.5,424.6 L161.1,425.2 L161.7,424.3 L162.3,423.8 L162.9,424.8 L163.5,424.7 L164.1,425.3 L164.7,423.7 L165.3,424.5 L165.9,424.6 L166.5,423.1 L167.1,424.7 L167.7,424.6 L168.3,424.0 L168.9,423.7 L169.5,422.5 L170.1,423.6 L170.7,423.5 L171.3,423.7 L171.9,423.6 L172.5,423.2 L173.1,424.2 L173.7,424.8 L174.3,423.5 L174.9,423.0 L175.5,422.9 L176.1,424.3 L176.7,423.2 L177.3,423.3 L177.9,423.7 L178.5,421.9 L179.1,424.1 L179.7,423.7 L180.3,423.1 L180.9,422.3 L181.5,423.7 L182.1,423.6 L182.7,423.5 L183.3,422.7 L183.9,423.3 L184.5,423.9 L185.1,422.4 L185.7,423.5 L186.3,421.7 L186.9,422.6 L187.5,423.8 L188.1,423.6 L188.7,422.1 L189.3,423.0 L189.9,423.7 L190.5,422.6 L191.1,423.4 L191.7,423.1 L192.3,423.6 L192.9,421.7 L193.5,423.2 L194.1,422.6 L194.7,421.5 L195.3,421.6 L195.9,422.0 L196.5,421.5 L197.1,422.0 L197.7,421.4 L198.3,420.3 L198.9,422.3 L199.5,421.4 L200.1,422.5 L200.7,421.8 L201.3,422.3 L201.9,421.8 L202.5,421.7 L203.1,421.4 L203.7,421.5 L204.3,422.1 L204.9,422.1 L205.5,421.1 L206.1,421.8 L206.7,422.0 L207.3,421.2" fill="none" stroke="#f2161c" stroke-width="1.9" stroke-linejoin="round"/>
<line x1="157.4" y1="474.1" x2="170.5" y2="474.1" stroke="#000000" stroke-width="1.6"/>
<line x1="157.4" y1="491.8" x2="170.5" y2="491.8" stroke="#f2161c" stroke-width="1.6"/>
<path d="M131.8,500.2 V529 H171.2" fill="none" stroke="#000" stroke-width="1.4"/>
<rect x="305.9" y="406.6" width="38.9" height="1.9" fill="#000"/>
<path d="M273.6,418.3 L274.2,418.8 L274.9,418.5 L275.5,418.6 L276.2,418.4 L276.8,419.0 L277.5,418.4 L278.1,418.6 L278.8,418.5 L279.4,419.0 L280.0,418.7 L280.7,418.4 L281.3,418.5 L282.0,418.4 L282.6,418.4 L283.2,418.6 L283.9,418.3 L284.5,418.7 L285.1,418.2 L285.7,418.6 L286.3,418.8 L286.9,418.7 L287.5,419.0 L288.1,418.6 L288.7,418.8 L289.3,418.5 L289.9,419.0 L290.5,418.1 L291.1,418.7 L291.6,418.4 L292.2,418.8 L292.8,418.4 L293.3,418.6 L293.8,418.7 L294.4,418.4 L294.9,418.6 L295.4,418.7 L295.9,418.5 L296.4,418.5 L296.9,418.6 L297.4,419.0 L297.9,418.4 L298.3,418.8 L298.8,418.2 L299.2,418.4 L299.7,418.6 L300.1,418.8 L300.5,418.6 L300.9,418.7 L301.3,418.3 L301.6,418.4 L302.0,418.8 L302.4,418.6 L302.7,418.6 L303.0,418.3 L303.3,418.9 L303.6,418.9 L303.9,418.6 L304.2,418.7 L304.5,418.4 L304.7,418.8 L304.9,418.6 L305.2,418.5 L305.4,418.2 L305.6,418.4 L305.7,418.3 L305.9,418.8 L306.0,418.5 L306.1,418.9 L306.2,418.7 L306.3,418.5 L306.4,418.9 L306.5,418.9 L306.5,418.7 L306.5,418.2 L306.6,418.8 L306.6,418.9 L306.6,418.9 L306.6,418.7 L306.7,418.7 L306.7,418.8 L306.7,418.8 L306.7,419.2 L306.8,419.7 L306.8,420.0 L306.8,419.9 L306.8,420.0 L306.8,420.6 L306.9,420.7 L306.9,421.1 L306.9,421.2 L306.9,421.4 L306.9,422.0 L307.0,421.9 L307.0,422.6 L307.0,422.6 L307.0,423.2" fill="none" stroke="#000000" stroke-width="1.9" stroke-linejoin="round"/><path d="M307.0,422.6 L307.0,423.2 L307.0,423.4 L307.0,423.9 L307.1,424.2 L307.1,425.0 L307.1,425.1 L307.1,425.5 L307.1,425.9 L307.1,426.8 L307.2,426.8 L307.2,427.2 L307.2,427.6 L307.2,428.4 L307.2,428.7 L307.2,429.2 L307.2,429.9 L307.2,430.7 L307.3,431.0 L307.3,431.6 L307.3,431.8 L307.3,432.6 L307.3,433.2 L307.3,433.7 L307.3,434.3 L307.3,434.5 L307.3,435.5 L307.4,435.8 L307.4,436.3 L307.4,437.0 L307.4,437.7 L307.4,438.2 L307.4,438.9 L307.4,439.5 L307.4,439.9 L307.4,440.4 L307.4,441.1 L307.5,441.7 L307.5,442.3 L307.5,443.2 L307.5,444.0 L307.5,443.9 L307.5,444.8 L307.5,445.2 L307.5,445.8 L307.5,446.6 L307.5,447.2 L307.6,447.5 L307.6,448.4 L307.6,449.0 L307.6,449.3 L307.6,450.2 L307.6,450.7 L307.6,451.1 L307.6,451.7 L307.6,452.4 L307.6,452.9 L307.7,453.9 L307.7,454.0 L307.7,454.5 L307.7,455.3 L307.7,455.5 L307.7,456.1 L307.7,456.6 L307.7,457.2 L307.7,457.6 L307.8,458.6 L307.8,458.6 L307.8,459.2 L307.8,459.8 L307.8,460.4 L307.8,460.4 L307.8,460.8 L307.8,461.6 L307.9,461.7 L307.9,462.2 L307.9,462.6 L307.9,463.3 L307.9,463.7 L307.9,463.5 L307.9,464.7 L307.9,465.1 L308.0,465.5 L308.0,465.7 L308.0,466.5 L308.0,466.3 L308.0,467.6 L308.0,467.6 L308.0,468.0 L308.0,468.7 L308.0,469.4 L308.1,469.4 L308.1,470.0 L308.1,470.3 L308.1,470.8 L308.1,471.5 L308.1,472.2 L308.1,472.2 L308.1,472.6 L308.1,473.1 L308.2,473.6 L308.2,473.9 L308.2,474.4 L308.2,474.6 L308.2,475.2 L308.2,475.7 L308.2,476.7 L308.2,476.5 L308.2,477.5 L308.3,477.5 L308.3,478.0 L308.3,478.6 L308.3,479.2 L308.3,479.3 L308.3,479.7 L308.3,480.3 L308.3,480.8 L308.3,481.2 L308.3,481.7 L308.4,482.1 L308.4,482.4 L308.4,483.1 L308.4,483.8 L308.4,484.2 L308.4,484.3 L308.4,484.9 L308.4,485.3 L308.4,485.6 L308.5,486.1 L308.5,486.6 L308.5,487.4 L308.5,487.7 L308.5,487.8 L308.5,488.4 L308.5,488.9 L308.5,489.2 L308.5,489.8 L308.6,490.0 L308.6,490.8 L308.6,491.3 L308.6,491.5 L308.6,492.1 L308.6,492.6 L308.6,493.0 L308.6,493.6 L308.7,493.6 L308.7,494.3 L308.7,494.8 L308.7,494.8 L308.7,495.8 L308.7,496.1 L308.7,496.8 L308.7,497.1 L308.8,497.6 L308.8,498.1 L308.8,498.4 L308.8,499.0 L308.8,499.3 L308.8,499.4 L308.8,500.1 L308.9,500.6 L308.9,501.3 L308.9,501.5 L308.9,502.0 L308.9,502.6 L308.9,503.1 L308.9,502.9 L309.0,503.8 L309.0,504.0 L309.0,504.8 L309.0,505.4 L309.0,505.7 L309.0,505.8 L309.0,506.4 L309.1,507.2 L309.1,507.4 L309.1,507.7 L309.1,508.4 L309.1,508.8 L309.1,509.0 L309.1,509.7 L309.2,509.9 L309.2,510.6 L309.2,511.0 L309.2,511.5 L309.2,511.4 L309.2,512.4 L309.3,512.7 L309.3,513.6 L309.3,513.7 L309.3,514.2 L309.3,514.4 L309.3,514.8 L309.4,515.5 L309.4,516.2 L309.4,516.2 L309.4,517.2 L309.4,517.5 L309.5,517.6 L309.5,518.5 L309.5,518.5 L309.5,519.2 L309.6,519.4 L309.6,520.0 L309.6,520.6 L309.6,520.7 L309.7,521.5 L309.7,521.6 L309.7,522.1 L309.8,522.8 L309.8,523.2 L309.9,523.7 L309.9,523.8 L310.0,524.9 L310.0,524.9 L310.1,525.3 L310.2,526.2 L310.3,526.7 L310.4,527.7 L310.5,528.0 L310.6,528.4 L310.7,528.9 L310.8,529.8 L311.0,530.2 L311.1,530.2 L311.2,529.5 L311.4,532.5 L311.5,531.7 L311.7,532.9 L311.9,532.8 L312.0,532.2" fill="none" stroke="#000000" stroke-width="1.8" stroke-linejoin="round"/><path d="M311.9,532.8 L312.0,532.2 L312.2,531.5 L312.4,533.7 L312.6,534.1 L312.8,532.3 L313.0,532.7 L313.2,534.5 L313.5,532.7 L313.8,533.3 L314.2,531.2 L314.6,531.3 L314.9,531.3 L315.3,531.4 L315.7,529.7 L316.1,530.4 L316.5,530.1 L316.9,528.2 L317.2,529.9 L317.6,530.1 L317.9,527.3 L318.2,529.3 L318.6,526.8 L318.9,529.5 L319.3,527.5 L319.6,525.5 L319.9,529.9 L320.3,528.1 L320.6,527.9 L321.0,526.1 L321.3,527.6 L321.7,526.4 L322.1,525.3 L322.4,525.9 L322.8,525.6 L323.2,524.7 L323.6,524.3 L324.0,525.4 L324.4,523.0 L324.8,525.2 L325.3,523.1 L325.7,523.3 L326.1,522.8 L326.5,523.6 L326.9,524.9 L327.3,522.6 L327.7,524.3 L328.1,522.7 L328.5,524.2 L328.9,524.0 L329.3,524.8 L329.7,524.3 L330.0,526.5 L330.4,524.8 L330.8,526.9 L331.2,526.5 L331.6,525.6 L331.9,526.3 L332.3,527.9 L332.7,526.2 L333.0,527.6 L333.4,525.4 L333.8,529.7 L334.1,526.0 L334.5,528.2 L334.9,527.6 L335.2,526.8 L335.6,525.9 L336.0,525.5 L336.3,523.4 L336.7,526.1 L337.1,523.0 L337.4,523.0 L337.8,521.9 L338.1,521.9 L338.4,523.0 L338.8,521.2 L339.1,523.9 L339.4,522.4 L339.8,522.5 L340.1,521.1 L340.4,521.8 L340.7,522.0 L341.0,520.7 L341.4,519.1 L341.7,520.7 L342.0,520.3 L342.3,520.0 L342.6,518.2 L342.8,518.5 L343.1,517.5 L343.4,518.1 L343.6,516.9 L343.9,516.4 L344.1,517.5 L344.3,518.0 L344.6,517.3 L344.8,514.0 L345.0,514.9 L345.2,515.7 L345.4,515.1 L345.6,513.7 L345.8,514.2 L346.0,513.5 L346.2,512.5 L346.3,511.7 L346.5,512.8 L346.7,511.7 L346.9,509.3 L347.1,510.0 L347.2,510.2 L347.4,509.3 L347.6,509.4 L347.8,509.5 L348.0,507.8 L348.2,507.1 L348.4,509.0 L348.5,506.8 L348.7,507.6 L348.9,506.9 L349.1,505.9 L349.3,503.8 L349.5,505.4 L349.6,506.4 L349.8,505.9 L350.0,505.3 L350.1,503.9 L350.3,503.5 L350.4,503.2 L350.6,501.0 L350.7,501.8 L350.9,500.8 L351.0,501.5 L351.1,500.4 L351.2,500.2 L351.3,499.9 L351.4,499.4 L351.5,497.9 L351.6,498.3 L351.7,497.9 L351.8,499.4 L351.9,496.9 L352.0,495.5 L352.1,497.4 L352.1,495.5 L352.2,494.6 L352.3,495.4 L352.3,493.5 L352.4,492.4 L352.5,493.8 L352.5,491.1 L352.6,490.9 L352.6,491.8 L352.7,493.4 L352.8,490.7 L352.8,490.5 L352.9,491.8 L352.9,489.4 L353.0,489.7 L353.1,489.1 L353.1,490.2 L353.2,488.1 L353.3,488.2 L353.4,487.5 L353.4,487.1 L353.5,487.2 L353.6,486.2 L353.7,485.7 L353.8,485.6 L353.9,485.8 L354.0,482.8 L354.1,484.1 L354.2,484.6 L354.3,482.4 L354.4,481.3 L354.5,480.3 L354.6,482.3 L354.8,480.5 L354.9,481.1 L355.0,481.5 L355.2,481.3 L355.3,479.2 L355.5,477.7 L355.6,478.6 L355.8,477.6 L355.9,477.2 L356.1,478.4 L356.3,475.6 L356.5,477.6 L356.6,474.8 L356.8,475.4 L357.0,474.6 L357.2,474.2 L357.4,474.1 L357.6,474.2 L357.7,472.8 L357.9,471.4 L358.1,472.5 L358.3,472.1 L358.5,473.5 L358.7,471.9 L358.9,471.0 L359.2,470.5 L359.4,470.6 L359.6,470.2 L359.8,470.4 L360.0,468.9 L360.2,468.6 L360.4,467.3 L360.6,468.7 L360.9,469.0 L361.1,467.2 L361.3,466.8 L361.5,467.3 L361.8,465.7 L362.0,466.8 L362.2,466.1 L362.5,465.0 L362.7,464.5 L363.0,465.7 L363.2,464.8 L363.5,463.7 L363.8,462.8 L364.0,461.0 L364.3,462.2 L364.6,462.3 L364.8,461.0 L365.1,459.2 L365.4,460.1 L365.7,460.1 L366.0,460.5 L366.3,460.8 L366.6,458.8 L366.9,459.0 L367.2,457.9 L367.5,458.8 L367.8,457.1 L368.1,457.4 L368.4,459.3 L368.7,457.2 L369.1,457.6 L369.4,456.8 L369.7,454.9 L370.0,455.1 L370.3,454.7 L370.7,455.3 L371.0,454.2 L371.3,454.8 L371.7,455.2 L372.0,454.0 L372.3,453.1 L372.7,454.8 L373.1,454.0 L373.4,453.1 L373.8,451.5 L374.1,453.2 L374.5,452.2 L374.9,451.7 L375.3,452.0 L375.7,452.6 L376.0,451.2 L376.4,451.1 L376.8,451.4 L377.2,451.1 L377.6,450.3 L378.0,449.5 L378.4,448.4 L378.8,449.7 L379.2,449.3 L379.6,450.7 L380.0,448.9 L380.4,447.9 L380.8,449.4 L381.2,447.2 L381.6,450.2 L382.0,446.9 L382.3,447.8 L382.7,446.5 L383.1,449.2 L383.5,447.4 L383.9,447.8 L384.3,447.0 L384.7,446.1 L385.1,446.8 L385.5,447.1 L385.9,445.0 L386.3,445.5 L386.7,445.1 L387.1,444.6 L387.5,444.1 L387.9,444.2 L388.3,445.3 L388.7,444.2 L389.1,443.9 L389.5,442.2 L389.9,443.1 L390.3,443.1 L390.7,443.7 L391.1,442.6 L391.5,442.2 L391.9,443.1 L392.3,441.1 L392.7,441.4 L393.1,442.7 L393.6,442.8 L394.0,441.7 L394.4,440.8 L394.8,441.0 L395.2,441.4 L395.7,440.2 L396.1,440.4 L396.5,441.4 L396.9,440.1 L397.4,439.0 L397.8,439.9 L398.2,440.3 L398.6,439.2 L399.1,440.7 L399.5,441.6 L399.9,439.8 L400.4,439.5 L400.8,438.6 L401.2,440.0 L401.7,439.4 L402.1,439.5 L402.6,440.0 L403.0,438.0 L403.4,438.9 L403.9,439.3 L404.3,439.7 L404.8,439.5 L405.2,438.8 L405.7,440.7 L406.1,438.5 L406.5,440.6 L407.0,438.0 L407.4,438.5 L407.9,438.5 L408.3,437.9 L408.8,437.8 L409.2,438.8 L409.7,438.9 L410.1,437.7 L410.6,436.5 L411.0,437.3 L411.5,438.4 L411.9,436.6 L412.4,435.4 L412.8,437.3 L413.2,437.7 L413.7,436.9 L414.1,438.2 L414.6,436.1 L415.0,435.8 L415.5,436.5 L415.9,437.0 L416.4,436.5 L416.8,435.0 L417.3,435.8 L417.7,436.5 L418.1,435.2 L418.6,436.3 L419.0,435.8 L419.5,434.8 L419.9,435.0 L420.4,437.1 L420.8,437.5 L421.2,436.4 L421.7,436.4 L422.1,435.8 L422.6,435.2 L423.0,434.6 L423.5,436.7 L423.9,435.0 L424.3,435.3 L424.8,434.7 L425.2,435.8 L425.7,436.4 L426.1,434.3 L426.5,435.1 L427.0,433.7 L427.4,434.2 L427.9,435.2 L428.3,433.7 L428.8,434.4 L429.2,435.0 L429.6,434.7 L430.1,434.0 L430.5,434.9 L431.0,433.7 L431.4,433.8 L431.9,433.4 L432.3,432.4 L432.7,433.9 L433.2,432.6 L433.6,432.7 L434.1,431.5 L434.5,431.9 L434.9,433.2 L435.4,432.8 L435.8,430.9 L436.3,432.0 L436.7,433.1 L437.2,433.5 L437.6,433.5 L438.0,432.5 L438.5,431.5 L438.9,433.1 L439.4,430.0 L439.8,433.0 L440.3,432.2 L440.7,433.5 L441.1,432.0 L441.6,433.5 L442.0,433.1 L442.5,430.7 L442.9,432.0 L443.4,431.1 L443.8,432.3 L444.3,433.2 L444.7,430.6 L445.1,430.8 L445.6,431.2 L446.0,431.2 L446.5,430.6 L446.9,430.7 L447.4,431.6 L447.8,428.5 L448.2,430.1 L448.7,429.8 L449.1,430.7 L449.6,430.3 L450.0,430.7 L450.5,429.3 L450.9,429.9 L451.4,431.9 L451.8,428.9 L452.2,429.8 L452.7,430.1 L453.1,429.3 L453.6,428.9 L454.0,428.7 L454.5,428.6 L454.9,429.6 L455.4,428.6 L455.8,430.5 L456.2,429.8 L456.7,426.7 L457.1,428.6 L457.6,428.5 L458.0,428.5 L458.5,428.2 L458.9,428.3 L459.4,429.1 L459.8,427.2" fill="none" stroke="#000000" stroke-width="2.3" stroke-linejoin="round"/>
<path d="M273.6,418.8 L274.3,418.3 L275.0,418.0 L275.7,416.9 L276.4,418.5 L277.1,419.2 L277.8,419.2 L278.5,418.2 L279.2,417.7 L279.9,418.4 L280.6,417.0 L281.3,417.7 L281.9,418.3 L282.6,418.2 L283.2,418.1 L283.9,417.2 L284.5,417.0 L285.2,418.1 L285.8,418.4 L286.4,417.8 L287.1,417.4 L287.7,418.1 L288.3,418.6 L288.9,418.0 L289.5,417.5 L290.1,418.9 L290.7,418.5 L291.2,417.8 L291.8,417.9 L292.4,417.5 L292.9,418.7 L293.4,417.6 L294.0,417.3 L294.5,417.9 L295.0,419.1 L295.5,416.3 L296.0,417.2 L296.5,418.4 L297.0,418.1 L297.4,418.0 L297.9,418.0 L298.4,417.8 L298.8,418.1 L299.2,418.1 L299.6,417.8 L300.0,417.3 L300.4,417.6 L300.8,417.1 L301.2,418.2 L301.6,417.9 L301.9,418.3 L302.3,418.6 L302.6,417.9 L302.9,418.2 L303.2,417.8 L303.5,418.3 L303.8,417.3 L304.1,418.0 L304.3,417.7 L304.5,418.2 L304.8,418.0 L305.0,417.4 L305.2,418.7 L305.4,418.0 L305.6,417.5 L305.7,418.3 L305.9,417.6 L306.0,417.4" fill="none" stroke="#f2161c" stroke-width="2.1" stroke-linejoin="round"/><path d="M305.9,417.6 L306.0,417.4 L306.1,418.5 L306.2,418.2 L306.3,417.4 L306.4,417.9 L306.5,418.5 L306.5,418.0 L306.5,418.2 L306.6,418.0 L306.6,418.5 L306.6,419.1 L306.7,418.7 L306.7,418.5 L306.7,418.7 L306.8,419.4 L306.8,419.4 L306.8,420.1 L306.8,420.4 L306.8,420.8 L306.9,421.1 L306.9,421.9 L306.9,422.4 L306.9,420.7 L306.9,421.9 L306.9,423.3 L307.0,424.1 L307.0,424.7 L307.0,424.3 L307.0,425.1 L307.0,425.4 L307.0,427.1 L307.0,427.1 L307.1,426.7 L307.1,428.2 L307.1,428.6 L307.1,430.0 L307.1,429.9 L307.1,430.4 L307.2,431.1 L307.2,432.4 L307.2,432.0 L307.2,432.8 L307.2,433.3 L307.3,434.1 L307.3,435.3 L307.3,435.6 L307.3,436.7 L307.4,436.6 L307.4,436.8 L307.4,438.1 L307.5,437.7 L307.5,439.1 L307.6,438.9 L307.6,438.7 L307.7,440.5 L307.7,440.5 L307.8,441.3 L307.9,441.8 L307.9,442.1 L308.0,442.2 L308.1,443.8 L308.2,443.6 L308.3,444.2 L308.4,444.1 L308.5,445.7 L308.6,446.2 L308.7,445.0 L308.8,445.6 L309.0,446.5 L309.1,446.9" fill="none" stroke="#f2161c" stroke-width="1.8" stroke-linejoin="round"/><path d="M309.0,446.5 L309.1,446.9 L309.2,447.6 L309.4,447.3 L309.5,448.9 L309.7,448.8 L309.9,446.9 L310.1,448.2 L310.3,447.6 L310.6,447.2 L310.9,446.3 L311.3,447.1 L311.6,446.0 L312.0,444.3 L312.4,446.3 L312.8,445.3 L313.2,445.0 L313.6,443.4 L314.0,443.4 L314.4,443.3 L314.8,444.1 L315.2,443.9 L315.5,442.8 L315.9,445.5 L316.2,442.0 L316.6,440.7 L317.0,442.8 L317.3,440.6 L317.7,440.5 L318.1,441.5 L318.4,439.3 L318.8,440.0 L319.2,440.1 L319.5,440.2 L319.9,440.2 L320.3,438.7 L320.7,439.7 L321.0,437.0 L321.4,437.6 L321.8,437.8 L322.2,437.9 L322.6,438.0 L323.0,438.8 L323.4,438.2 L323.8,438.6 L324.2,438.1 L324.6,436.0 L325.0,439.3 L325.5,438.2 L325.9,437.1 L326.3,436.8 L326.8,437.7 L327.2,437.3 L327.6,438.1 L328.1,438.7 L328.5,437.7 L329.0,438.7 L329.4,438.8 L329.9,437.4 L330.3,437.6 L330.8,437.1 L331.2,436.7 L331.7,436.7 L332.2,435.8 L332.6,436.7 L333.1,436.5 L333.6,437.4 L334.0,437.7 L334.5,436.7 L334.9,436.2 L335.4,436.8 L335.9,436.5 L336.3,436.6 L336.8,438.1 L337.3,437.7 L337.7,437.0 L338.2,437.5 L338.7,436.6 L339.1,435.9 L339.6,436.0 L340.0,436.2 L340.5,435.9 L341.0,437.3 L341.4,437.0 L341.9,436.2 L342.3,436.7 L342.8,436.4 L343.2,437.0 L343.7,437.9 L344.1,435.1 L344.6,437.1 L345.0,435.9 L345.4,435.6 L345.9,435.5 L346.3,437.7 L346.8,435.5 L347.2,437.3 L347.7,436.0 L348.1,435.2 L348.6,436.0 L349.0,437.1 L349.5,436.9 L349.9,435.2 L350.4,435.9 L350.8,435.7 L351.3,435.3 L351.7,435.6 L352.1,435.7 L352.6,434.6 L353.0,436.0 L353.5,434.2 L353.9,435.0 L354.4,436.2 L354.8,434.5 L355.3,434.6 L355.7,435.4 L356.2,434.3 L356.6,433.3 L357.1,434.1 L357.5,433.8 L357.9,433.4 L358.4,432.6 L358.8,435.2 L359.3,434.1 L359.7,433.2 L360.2,433.5 L360.6,433.3 L361.1,433.2 L361.5,434.2 L362.0,434.2 L362.4,432.4 L362.8,432.4 L363.3,432.6 L363.7,432.0 L364.2,436.2 L364.6,433.0 L365.1,433.2 L365.5,433.8 L366.0,432.2 L366.4,431.5 L366.9,434.0 L367.3,431.9 L367.8,433.3 L368.2,432.1 L368.6,434.7 L369.1,433.3 L369.5,432.5 L370.0,431.2 L370.4,431.6 L370.9,430.4 L371.3,431.5 L371.8,430.8 L372.2,432.6 L372.7,432.1 L373.1,431.9 L373.5,434.2 L374.0,431.6 L374.4,432.3 L374.9,431.9 L375.3,430.8 L375.8,430.4 L376.2,432.7 L376.7,430.1 L377.1,431.3 L377.6,430.5 L378.0,431.4 L378.4,432.4 L378.9,429.7 L379.3,430.9 L379.8,431.7 L380.2,429.8 L380.7,429.2 L381.1,430.0 L381.6,430.0 L382.0,430.6 L382.5,428.7 L382.9,430.2 L383.4,428.4 L383.8,430.1 L384.2,429.6 L384.7,427.4 L385.1,430.1 L385.6,428.9 L386.0,430.7 L386.5,429.9 L386.9,428.2 L387.4,428.0 L387.8,428.9 L388.3,428.0 L388.7,431.3 L389.2,429.9 L389.6,428.7 L390.0,429.1 L390.5,428.4 L390.9,429.1 L391.4,427.3 L391.8,428.3 L392.3,429.0 L392.7,427.4 L393.2,428.5 L393.6,427.9 L394.1,429.6 L394.5,429.2 L395.0,427.0 L395.4,426.8 L395.9,427.7 L396.3,429.8 L396.8,429.6 L397.2,429.0 L397.7,428.3 L398.1,428.0 L398.6,428.8 L399.0,428.2 L399.5,427.1 L399.9,427.3 L400.3,428.6 L400.8,429.3 L401.2,427.9 L401.7,426.4 L402.1,427.2 L402.6,426.8 L403.0,428.2 L403.5,427.7 L403.9,426.6 L404.4,428.9 L404.8,427.9 L405.3,426.9 L405.7,427.5 L406.2,427.1 L406.6,428.7 L407.1,428.0 L407.5,427.5 L408.0,427.9 L408.4,428.3 L408.9,426.4 L409.3,426.4 L409.8,426.4 L410.2,427.3 L410.7,425.8 L411.1,428.1 L411.6,424.6 L412.0,425.7 L412.5,424.8 L412.9,427.1 L413.4,425.6 L413.8,426.5 L414.3,426.7 L414.7,427.9 L415.2,427.0 L415.6,426.0 L416.1,426.0 L416.5,426.7 L417.0,426.5 L417.4,427.5 L417.9,425.5 L418.3,426.3 L418.7,426.4 L419.2,426.3 L419.6,427.9 L420.1,426.3 L420.5,425.8 L421.0,425.9 L421.4,426.3 L421.9,425.4 L422.3,426.3 L422.8,426.7 L423.2,426.3 L423.7,424.7 L424.1,425.0 L424.6,426.2 L425.0,426.1 L425.5,425.8 L425.9,425.4 L426.4,424.9 L426.8,425.4 L427.3,424.3 L427.7,424.0 L428.2,425.0 L428.6,426.1 L429.1,425.3 L429.5,425.6 L430.0,425.2 L430.4,426.0 L430.9,425.1 L431.3,425.4 L431.8,426.6 L432.2,424.6 L432.7,426.1 L433.1,424.2 L433.6,426.5 L434.1,424.9 L434.5,424.1 L435.0,424.6 L435.4,425.8 L435.9,424.1 L436.3,424.6 L436.8,425.6 L437.2,424.2 L437.7,424.4 L438.1,424.3 L438.6,423.7 L439.0,424.1 L439.5,425.1 L439.9,423.4 L440.4,424.0 L440.8,424.9 L441.3,424.2 L441.7,424.3 L442.2,425.5 L442.6,423.9 L443.1,424.4 L443.5,424.0 L444.0,424.6 L444.4,422.9 L444.9,423.3 L445.3,424.0 L445.8,425.0 L446.2,423.7 L446.7,423.9 L447.1,424.6 L447.6,422.4 L448.0,424.5 L448.5,424.2 L448.9,425.9 L449.4,424.4 L449.8,423.2 L450.3,423.9 L450.7,423.8 L451.2,423.3 L451.7,421.5 L452.1,423.1 L452.6,423.4 L453.0,423.3 L453.5,423.4 L453.9,422.9 L454.4,423.7 L454.8,422.6 L455.3,422.6 L455.7,423.1 L456.2,424.0 L456.6,424.1 L457.1,423.8 L457.5,424.4 L458.0,424.5 L458.4,423.6 L458.9,423.9 L459.3,422.2 L459.8,423.4" fill="none" stroke="#f2161c" stroke-width="2.4" stroke-linejoin="round"/>
<line x1="421.4" y1="470.9" x2="435" y2="470.9" stroke="#000000" stroke-width="1.6"/>
<line x1="421.4" y1="489.8" x2="435" y2="489.8" stroke="#f2161c" stroke-width="1.6"/>
<path d="M401.4,502.6 V531.4 H433.9" fill="none" stroke="#000" stroke-width="1.4"/>
<text x="2.88" y="17.49" font-size="18" font-weight="bold" stroke="#111" stroke-width="0.15" textLength="10.20" lengthAdjust="spacingAndGlyphs">a</text>
<text x="41.40" y="22.72" font-size="10.5" font-weight="normal" stroke="#111" stroke-width="0.2" textLength="22.75" lengthAdjust="spacingAndGlyphs">ACh</text>
<text x="71.93" y="147.65" font-size="10.5" font-weight="normal" stroke="#111" stroke-width="0.2" textLength="34.91" lengthAdjust="spacingAndGlyphs">500 pA</text>
<text x="115.40" y="172.57" font-size="10.5" font-weight="normal" stroke="#111" stroke-width="0.2" textLength="14.43" lengthAdjust="spacingAndGlyphs">1 s</text>
<text x="186.36" y="81.42" font-size="10.5" font-weight="normal" stroke="#111" stroke-width="0.2" textLength="24.90" lengthAdjust="spacingAndGlyphs">1 μM</text>
<text x="186.33" y="99.57" font-size="10.5" font-weight="normal" stroke="#111" stroke-width="0.2" textLength="30.98" lengthAdjust="spacingAndGlyphs">10 μM</text>
<text x="186.35" y="117.12" font-size="10.5" font-weight="normal" stroke="#111" stroke-width="0.2" textLength="36.66" lengthAdjust="spacingAndGlyphs">100 μM</text>
<text x="186.66" y="134.67" font-size="10.5" font-weight="normal" stroke="#111" stroke-width="0.2" textLength="36.34" lengthAdjust="spacingAndGlyphs">300 μM</text>
<text x="260.92" y="17.14" font-size="18" font-weight="bold" stroke="#111" stroke-width="0.15" textLength="10.81" lengthAdjust="spacingAndGlyphs">b</text>
<text x="372.07" y="176.67" font-size="10.5" font-weight="normal" stroke="#111" stroke-width="0.2" textLength="58.05" lengthAdjust="spacingAndGlyphs">Log[ACh] M</text>
<text x="2.48" y="206.99" font-size="18" font-weight="bold" stroke="#111" stroke-width="0.15" textLength="9.77" lengthAdjust="spacingAndGlyphs">c</text>
<text x="48.62" y="212.36" font-size="10.5" font-weight="normal" stroke="#111" stroke-width="0.2" textLength="59.61" lengthAdjust="spacingAndGlyphs">100 <tspan font-family="Liberation Serif" stroke-width="0.05">μ</tspan>M ACh</text>
<text x="178.77" y="261.21" font-size="10.5" font-weight="normal" stroke="#111" stroke-width="0.2" textLength="58.98" lengthAdjust="spacingAndGlyphs">100 <tspan font-family="Liberation Serif" stroke-width="0.05">μ</tspan>M ACh</text>
<text x="179.32" y="279.46" font-size="10.5" font-weight="normal" stroke="#111" stroke-width="0.2" textLength="68.57" lengthAdjust="spacingAndGlyphs">+ 0.1 μM d-TC</text>
<text x="179.29" y="297.27" font-size="10.5" font-weight="normal" stroke="#111" stroke-width="0.2" textLength="58.82" lengthAdjust="spacingAndGlyphs">+ 1 μM d-TC</text>
<text x="179.32" y="314.80" font-size="10.5" font-weight="normal" stroke="#111" stroke-width="0.2" textLength="64.66" lengthAdjust="spacingAndGlyphs">+ 10 μM d-TC</text>
<text x="179.38" y="332.83" font-size="10.5" font-weight="normal" stroke="#111" stroke-width="0.2" textLength="70.10" lengthAdjust="spacingAndGlyphs">+ 100 μM d-TC</text>
<text x="85.72" y="338.58" font-size="10.5" font-weight="normal" stroke="#111" stroke-width="0.2" textLength="34.88" lengthAdjust="spacingAndGlyphs">500 pA</text>
<text x="131.59" y="359.69" font-size="10.5" font-weight="normal" stroke="#111" stroke-width="0.2" textLength="15.03" lengthAdjust="spacingAndGlyphs">1 s</text>
<text x="260.72" y="206.84" font-size="18" font-weight="bold" stroke="#111" stroke-width="0.15" textLength="10.34" lengthAdjust="spacingAndGlyphs">d</text>
<text x="370.80" y="366.81" font-size="10.5" font-weight="normal" stroke="#111" stroke-width="0.2" textLength="60.74" lengthAdjust="spacingAndGlyphs">Log[d-TC] M</text>
<text x="2.61" y="396.89" font-size="18" font-weight="bold" stroke="#111" stroke-width="0.15" textLength="9.92" lengthAdjust="spacingAndGlyphs">e</text>
<text x="51.61" y="403.36" font-size="10.5" font-weight="normal" stroke="#111" stroke-width="0.2" textLength="59.20" lengthAdjust="spacingAndGlyphs">100 <tspan font-family="Liberation Serif" stroke-width="0.05">μ</tspan>M ACh</text>
<text x="178.49" y="478.53" font-size="10.5" font-weight="normal" stroke="#111" stroke-width="0.2" textLength="58.77" lengthAdjust="spacingAndGlyphs">100 μM ACh</text>
<text x="179.06" y="495.61" font-size="10.5" font-weight="normal" stroke="#111" stroke-width="0.2" textLength="79.98" lengthAdjust="spacingAndGlyphs">+ 10 μM atropine</text>
<text x="94.84" y="519.62" font-size="10.5" font-weight="normal" stroke="#111" stroke-width="0.2" textLength="35.48" lengthAdjust="spacingAndGlyphs">500 pA</text>
<text x="144.43" y="542.77" font-size="10.5" font-weight="normal" stroke="#111" stroke-width="0.2" textLength="14.84" lengthAdjust="spacingAndGlyphs">1 s</text>
<text x="259.07" y="396.45" font-size="18" font-weight="bold" stroke="#111" stroke-width="0.15" textLength="5.85" lengthAdjust="spacingAndGlyphs">f</text>
<text x="289.50" y="404.11" font-size="10.5" font-weight="normal" stroke="#111" stroke-width="0.2" textLength="71.94" lengthAdjust="spacingAndGlyphs">100 <tspan font-family="Liberation Serif" stroke-width="0.05">μ</tspan>M agonist</text>
<text x="442.92" y="474.61" font-size="10.5" font-weight="normal" stroke="#111" stroke-width="0.2" textLength="59.52" lengthAdjust="spacingAndGlyphs">100 μM ACh</text>
<text x="442.90" y="493.46" font-size="10.5" font-weight="normal" stroke="#111" stroke-width="0.2" textLength="75.68" lengthAdjust="spacingAndGlyphs">100 μM nicotine</text>
<text x="364.25" y="521.52" font-size="10.5" font-weight="normal" stroke="#111" stroke-width="0.2" textLength="35.47" lengthAdjust="spacingAndGlyphs">500 pA</text>
<text x="410.61" y="544.42" font-size="10.5" font-weight="normal" stroke="#111" stroke-width="0.2" textLength="14.89" lengthAdjust="spacingAndGlyphs">1 s</text>
</g>
</svg>
</body></html>
